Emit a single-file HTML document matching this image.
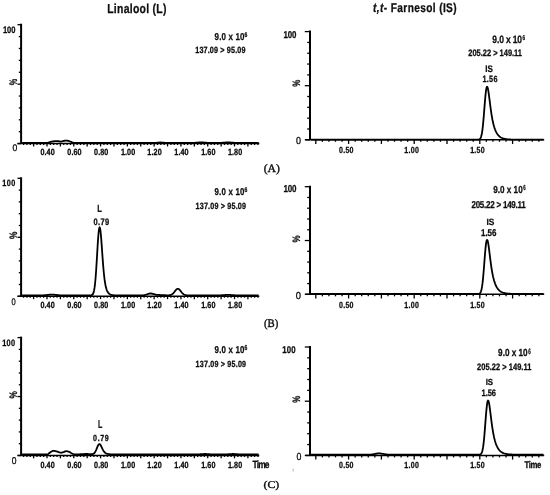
<!DOCTYPE html>
<html><head><meta charset="utf-8"><style>
html,body{margin:0;padding:0;background:#fff;}
svg{display:block;filter:blur(0.3px);}
.ax{stroke:#000;stroke-width:2.0;fill:none;}
.xa{stroke:#000;stroke-width:1.5;fill:none;}
.tk{stroke:#000;stroke-width:1.3;}
.tr{stroke:#000;stroke-width:1.8;fill:none;stroke-linejoin:round;}
text{fill:#111;}
</style></head><body>
<svg width="550" height="495" viewBox="0 0 550 495">
<line x1="21.1" y1="23.7" x2="21.1" y2="143.6" class="ax"/>
<line x1="17.5" y1="143.6" x2="259.3" y2="143.6" class="xa"/>
<line x1="17.5" y1="143.6" x2="21.1" y2="143.6" class="tk"/>
<line x1="18.8" y1="131.71" x2="21.1" y2="131.71" class="tk"/>
<line x1="18.8" y1="119.82" x2="21.1" y2="119.82" class="tk"/>
<line x1="18.8" y1="107.93" x2="21.1" y2="107.93" class="tk"/>
<line x1="18.8" y1="96.04" x2="21.1" y2="96.04" class="tk"/>
<line x1="17.5" y1="84.15" x2="21.1" y2="84.15" class="tk"/>
<line x1="18.8" y1="72.26" x2="21.1" y2="72.26" class="tk"/>
<line x1="18.8" y1="60.37" x2="21.1" y2="60.37" class="tk"/>
<line x1="18.8" y1="48.48" x2="21.1" y2="48.48" class="tk"/>
<line x1="18.8" y1="36.59" x2="21.1" y2="36.59" class="tk"/>
<line x1="17.5" y1="24.7" x2="21.1" y2="24.7" class="tk"/>
<line x1="23.56" y1="143.6" x2="23.56" y2="145.05" class="tk"/>
<line x1="26.91" y1="143.6" x2="26.91" y2="145.05" class="tk"/>
<line x1="30.26" y1="143.6" x2="30.26" y2="145.05" class="tk"/>
<line x1="33.61" y1="143.6" x2="33.61" y2="146.45" class="tk"/>
<line x1="36.96" y1="143.6" x2="36.96" y2="145.05" class="tk"/>
<line x1="40.3" y1="143.6" x2="40.3" y2="145.05" class="tk"/>
<line x1="43.65" y1="143.6" x2="43.65" y2="145.05" class="tk"/>
<line x1="47" y1="143.6" x2="47" y2="146.45" class="tk"/>
<line x1="50.35" y1="143.6" x2="50.35" y2="145.05" class="tk"/>
<line x1="53.7" y1="143.6" x2="53.7" y2="145.05" class="tk"/>
<line x1="57.04" y1="143.6" x2="57.04" y2="145.05" class="tk"/>
<line x1="60.39" y1="143.6" x2="60.39" y2="146.45" class="tk"/>
<line x1="63.74" y1="143.6" x2="63.74" y2="145.05" class="tk"/>
<line x1="67.09" y1="143.6" x2="67.09" y2="145.05" class="tk"/>
<line x1="70.44" y1="143.6" x2="70.44" y2="145.05" class="tk"/>
<line x1="73.79" y1="143.6" x2="73.79" y2="146.45" class="tk"/>
<line x1="77.13" y1="143.6" x2="77.13" y2="145.05" class="tk"/>
<line x1="80.48" y1="143.6" x2="80.48" y2="145.05" class="tk"/>
<line x1="83.83" y1="143.6" x2="83.83" y2="145.05" class="tk"/>
<line x1="87.18" y1="143.6" x2="87.18" y2="146.45" class="tk"/>
<line x1="90.53" y1="143.6" x2="90.53" y2="145.05" class="tk"/>
<line x1="93.88" y1="143.6" x2="93.88" y2="145.05" class="tk"/>
<line x1="97.22" y1="143.6" x2="97.22" y2="145.05" class="tk"/>
<line x1="100.57" y1="143.6" x2="100.57" y2="146.45" class="tk"/>
<line x1="103.92" y1="143.6" x2="103.92" y2="145.05" class="tk"/>
<line x1="107.27" y1="143.6" x2="107.27" y2="145.05" class="tk"/>
<line x1="110.62" y1="143.6" x2="110.62" y2="145.05" class="tk"/>
<line x1="113.97" y1="143.6" x2="113.97" y2="146.45" class="tk"/>
<line x1="117.31" y1="143.6" x2="117.31" y2="145.05" class="tk"/>
<line x1="120.66" y1="143.6" x2="120.66" y2="145.05" class="tk"/>
<line x1="124.01" y1="143.6" x2="124.01" y2="145.05" class="tk"/>
<line x1="127.36" y1="143.6" x2="127.36" y2="146.45" class="tk"/>
<line x1="130.71" y1="143.6" x2="130.71" y2="145.05" class="tk"/>
<line x1="134.05" y1="143.6" x2="134.05" y2="145.05" class="tk"/>
<line x1="137.4" y1="143.6" x2="137.4" y2="145.05" class="tk"/>
<line x1="140.75" y1="143.6" x2="140.75" y2="146.45" class="tk"/>
<line x1="144.1" y1="143.6" x2="144.1" y2="145.05" class="tk"/>
<line x1="147.45" y1="143.6" x2="147.45" y2="145.05" class="tk"/>
<line x1="150.8" y1="143.6" x2="150.8" y2="145.05" class="tk"/>
<line x1="154.14" y1="143.6" x2="154.14" y2="146.45" class="tk"/>
<line x1="157.49" y1="143.6" x2="157.49" y2="145.05" class="tk"/>
<line x1="160.84" y1="143.6" x2="160.84" y2="145.05" class="tk"/>
<line x1="164.19" y1="143.6" x2="164.19" y2="145.05" class="tk"/>
<line x1="167.54" y1="143.6" x2="167.54" y2="146.45" class="tk"/>
<line x1="170.89" y1="143.6" x2="170.89" y2="145.05" class="tk"/>
<line x1="174.23" y1="143.6" x2="174.23" y2="145.05" class="tk"/>
<line x1="177.58" y1="143.6" x2="177.58" y2="145.05" class="tk"/>
<line x1="180.93" y1="143.6" x2="180.93" y2="146.45" class="tk"/>
<line x1="184.28" y1="143.6" x2="184.28" y2="145.05" class="tk"/>
<line x1="187.63" y1="143.6" x2="187.63" y2="145.05" class="tk"/>
<line x1="190.97" y1="143.6" x2="190.97" y2="145.05" class="tk"/>
<line x1="194.32" y1="143.6" x2="194.32" y2="146.45" class="tk"/>
<line x1="197.67" y1="143.6" x2="197.67" y2="145.05" class="tk"/>
<line x1="201.02" y1="143.6" x2="201.02" y2="145.05" class="tk"/>
<line x1="204.37" y1="143.6" x2="204.37" y2="145.05" class="tk"/>
<line x1="207.72" y1="143.6" x2="207.72" y2="146.45" class="tk"/>
<line x1="211.06" y1="143.6" x2="211.06" y2="145.05" class="tk"/>
<line x1="214.41" y1="143.6" x2="214.41" y2="145.05" class="tk"/>
<line x1="217.76" y1="143.6" x2="217.76" y2="145.05" class="tk"/>
<line x1="221.11" y1="143.6" x2="221.11" y2="146.45" class="tk"/>
<line x1="224.46" y1="143.6" x2="224.46" y2="145.05" class="tk"/>
<line x1="227.81" y1="143.6" x2="227.81" y2="145.05" class="tk"/>
<line x1="231.15" y1="143.6" x2="231.15" y2="145.05" class="tk"/>
<line x1="234.5" y1="143.6" x2="234.5" y2="146.45" class="tk"/>
<line x1="237.85" y1="143.6" x2="237.85" y2="145.05" class="tk"/>
<line x1="241.2" y1="143.6" x2="241.2" y2="145.05" class="tk"/>
<line x1="244.55" y1="143.6" x2="244.55" y2="145.05" class="tk"/>
<line x1="247.9" y1="143.6" x2="247.9" y2="146.45" class="tk"/>
<line x1="251.24" y1="143.6" x2="251.24" y2="145.05" class="tk"/>
<line x1="254.59" y1="143.6" x2="254.59" y2="145.05" class="tk"/>
<line x1="257.94" y1="143.6" x2="257.94" y2="145.05" class="tk"/>
<polyline points="22.1,143 22.6,143 23.1,143 23.6,143 24.1,143 24.6,143 25.1,143 25.6,143 26.1,143 26.6,143 27.1,143 27.6,143 28.1,143 28.6,143 29.1,143 29.6,143 30.1,143 30.6,143 31.1,143 31.6,143 32.1,143 32.6,143 33.1,143 33.6,143 34.1,143 34.6,143 35.1,143 35.6,143 36.1,143 36.6,143 37.1,143 37.6,143 38.1,143 38.6,143 39.1,143 39.6,143 40.1,143 40.6,143 41.1,143 41.6,143 42.1,143 42.6,143 43.1,143 43.6,143 44.1,143 44.6,142.99 45.1,142.97 45.6,142.94 46.1,142.91 46.6,142.87 47.1,142.82 47.6,142.76 48.1,142.65 48.6,142.51 49.1,142.36 49.6,142.21 50.1,142.08 50.6,141.95 51.1,141.82 51.6,141.69 52.1,141.57 52.6,141.47 53.1,141.39 53.6,141.31 54.1,141.24 54.6,141.18 55.1,141.12 55.6,141.08 56.1,141.05 56.6,141.05 57.1,141.08 57.6,141.14 58.1,141.2 58.6,141.26 59.1,141.34 59.6,141.43 60.1,141.51 60.6,141.55 61.1,141.52 61.6,141.44 62.1,141.32 62.6,141.19 63.1,141.08 63.6,140.97 64.1,140.85 64.6,140.74 65.1,140.65 65.6,140.6 66.1,140.61 66.6,140.63 67.1,140.68 67.6,140.75 68.1,140.83 68.6,140.92 69.1,141.06 69.6,141.27 70.1,141.5 70.6,141.73 71.1,141.94 71.6,142.15 72.1,142.36 72.6,142.56 73.1,142.72 73.6,142.81 74.1,142.87 74.6,142.93 75.1,142.97 75.6,142.99 76.1,143 76.6,143 77.1,143 77.6,143 78.1,143 78.6,143 79.1,143 79.6,143 80.1,143 80.6,143 81.1,143 81.6,143 82.1,143 82.6,143 83.1,143 83.6,143 84.1,143 84.6,143 85.1,143 85.6,143 86.1,143 86.6,143 87.1,143 87.6,143 88.1,143 88.6,143 89.1,143 89.6,143 90.1,143 90.6,143 91.1,143 91.6,143 92.1,143 92.6,143 93.1,143 93.6,143 94.1,143 94.6,143 95.1,143 95.6,143 96.1,143 96.6,143 97.1,143 97.6,143 98.1,143 98.6,143 99.1,143 99.6,143 100.1,143 100.6,143 101.1,143 101.6,143 102.1,143 102.6,143 103.1,143 103.6,143 104.1,143 104.6,143 105.1,143 105.6,143 106.1,143 106.6,143 107.1,143 107.6,143 108.1,143 108.6,143 109.1,143 109.6,143 110.1,143 110.6,143 111.1,143 111.6,143 112.1,143 112.6,143 113.1,143 113.6,143 114.1,143 114.6,143 115.1,143 115.6,143 116.1,143 116.6,143 117.1,143 117.6,143 118.1,143 118.6,143 119.1,143 119.6,143 120.1,143 120.6,143 121.1,143 121.6,143 122.1,143 122.6,143 123.1,143 123.6,143 124.1,143 124.6,143 125.1,143 125.6,143 126.1,143 126.6,143 127.1,143 127.6,143 128.1,143 128.6,143 129.1,143 129.6,143 130.1,143 130.6,143 131.1,143 131.6,143 132.1,143 132.6,143 133.1,143 133.6,143 134.1,143 134.6,143 135.1,143 135.6,143 136.1,143 136.6,143 137.1,143 137.6,143 138.1,143 138.6,143 139.1,143 139.6,143 140.1,143 140.6,143 141.1,143 141.6,143 142.1,143 142.6,143 143.1,143 143.6,143 144.1,143 144.6,143 145.1,143 145.6,143 146.1,143 146.6,143 147.1,143 147.6,143 148.1,143 148.6,143 149.1,143 149.6,143 150.1,143 150.6,143 151.1,143 151.6,142.99 152.1,142.99 152.6,142.98 153.1,142.97 153.6,142.96 154.1,142.94 154.6,142.92 155.1,142.89 155.6,142.86 156.1,142.82 156.6,142.78 157.1,142.73 157.6,142.68 158.1,142.63 158.6,142.58 159.1,142.54 159.6,142.52 160.1,142.5 160.6,142.5 161.1,142.51 161.6,142.54 162.1,142.57 162.6,142.62 163.1,142.67 163.6,142.72 164.1,142.77 164.6,142.81 165.1,142.85 165.6,142.89 166.1,142.92 166.6,142.94 167.1,142.96 167.6,142.97 168.1,142.98 168.6,142.99 169.1,142.99 169.6,143 170.1,143 170.6,143 171.1,143 171.6,143 172.1,143 172.6,143 173.1,143 173.6,143 174.1,143 174.6,143 175.1,143 175.6,143 176.1,143 176.6,143 177.1,143 177.6,143 178.1,143 178.6,143 179.1,143 179.6,143 180.1,143 180.6,143 181.1,143 181.6,143 182.1,143 182.6,143 183.1,143 183.6,143 184.1,143 184.6,143 185.1,143 185.6,143 186.1,143 186.6,143 187.1,143 187.6,143 188.1,143 188.6,143 189.1,142.99 189.6,142.99 190.1,142.99 190.6,142.98 191.1,142.97 191.6,142.96 192.1,142.95 192.6,142.93 193.1,142.91 193.6,142.89 194.1,142.86 194.6,142.83 195.1,142.8 195.6,142.76 196.1,142.72 196.6,142.67 197.1,142.63 197.6,142.58 198.1,142.54 198.6,142.5 199.1,142.46 199.6,142.44 200.1,142.41 200.6,142.4 201.1,142.4 201.6,142.41 202.1,142.42 202.6,142.45 203.1,142.48 203.6,142.51 204.1,142.56 204.6,142.6 205.1,142.65 205.6,142.69 206.1,142.73 206.6,142.77 207.1,142.81 207.6,142.85 208.1,142.88 208.6,142.9 209.1,142.92 209.6,142.94 210.1,142.95 210.6,142.97 211.1,142.98 211.6,142.98 212.1,142.99 212.6,142.99 213.1,142.99 213.6,142.99 214.1,143 214.6,143 215.1,143 215.6,142.99 216.1,142.99 216.6,142.99 217.1,142.99 217.6,142.98 218.1,142.97 218.6,142.96 219.1,142.95 219.6,142.93 220.1,142.91 220.6,142.89 221.1,142.86 221.6,142.83 222.1,142.8 222.6,142.76 223.1,142.72 223.6,142.67 224.1,142.63 224.6,142.58 225.1,142.54 225.6,142.5 226.1,142.46 226.6,142.44 227.1,142.41 227.6,142.4 228.1,142.4 228.6,142.41 229.1,142.42 229.6,142.45 230.1,142.48 230.6,142.51 231.1,142.56 231.6,142.6 232.1,142.65 232.6,142.69 233.1,142.73 233.6,142.77 234.1,142.81 234.6,142.85 235.1,142.88 235.6,142.9 236.1,142.92 236.6,142.94 237.1,142.95 237.6,142.97 238.1,142.98 238.6,142.98 239.1,142.99 239.6,142.99 240.1,142.99 240.6,143 241.1,143 241.6,143 242.1,143 242.6,143 243.1,143 243.6,143 244.1,143 244.6,143 245.1,143 245.6,143 246.1,143 246.6,143 247.1,143 247.6,143 248.1,143 248.6,143 249.1,143 249.6,143 250.1,143 250.6,143 251.1,143 251.6,143 252.1,143 252.6,143 253.1,143 253.6,143 254.1,143 254.6,143 255.1,143 255.6,143 256.1,143 256.6,143 257.1,143 257.6,143 258.1,143 258.6,143" class="tr"/>
<line x1="21.1" y1="177.3" x2="21.1" y2="296.3" class="ax"/>
<line x1="17.5" y1="296.3" x2="259.3" y2="296.3" class="xa"/>
<line x1="17.5" y1="296.3" x2="21.1" y2="296.3" class="tk"/>
<line x1="18.8" y1="284.5" x2="21.1" y2="284.5" class="tk"/>
<line x1="18.8" y1="272.7" x2="21.1" y2="272.7" class="tk"/>
<line x1="18.8" y1="260.9" x2="21.1" y2="260.9" class="tk"/>
<line x1="18.8" y1="249.1" x2="21.1" y2="249.1" class="tk"/>
<line x1="17.5" y1="237.3" x2="21.1" y2="237.3" class="tk"/>
<line x1="18.8" y1="225.5" x2="21.1" y2="225.5" class="tk"/>
<line x1="18.8" y1="213.7" x2="21.1" y2="213.7" class="tk"/>
<line x1="18.8" y1="201.9" x2="21.1" y2="201.9" class="tk"/>
<line x1="18.8" y1="190.1" x2="21.1" y2="190.1" class="tk"/>
<line x1="17.5" y1="178.3" x2="21.1" y2="178.3" class="tk"/>
<line x1="23.56" y1="296.3" x2="23.56" y2="297.75" class="tk"/>
<line x1="26.91" y1="296.3" x2="26.91" y2="297.75" class="tk"/>
<line x1="30.26" y1="296.3" x2="30.26" y2="297.75" class="tk"/>
<line x1="33.61" y1="296.3" x2="33.61" y2="299.15" class="tk"/>
<line x1="36.96" y1="296.3" x2="36.96" y2="297.75" class="tk"/>
<line x1="40.3" y1="296.3" x2="40.3" y2="297.75" class="tk"/>
<line x1="43.65" y1="296.3" x2="43.65" y2="297.75" class="tk"/>
<line x1="47" y1="296.3" x2="47" y2="299.15" class="tk"/>
<line x1="50.35" y1="296.3" x2="50.35" y2="297.75" class="tk"/>
<line x1="53.7" y1="296.3" x2="53.7" y2="297.75" class="tk"/>
<line x1="57.04" y1="296.3" x2="57.04" y2="297.75" class="tk"/>
<line x1="60.39" y1="296.3" x2="60.39" y2="299.15" class="tk"/>
<line x1="63.74" y1="296.3" x2="63.74" y2="297.75" class="tk"/>
<line x1="67.09" y1="296.3" x2="67.09" y2="297.75" class="tk"/>
<line x1="70.44" y1="296.3" x2="70.44" y2="297.75" class="tk"/>
<line x1="73.79" y1="296.3" x2="73.79" y2="299.15" class="tk"/>
<line x1="77.13" y1="296.3" x2="77.13" y2="297.75" class="tk"/>
<line x1="80.48" y1="296.3" x2="80.48" y2="297.75" class="tk"/>
<line x1="83.83" y1="296.3" x2="83.83" y2="297.75" class="tk"/>
<line x1="87.18" y1="296.3" x2="87.18" y2="299.15" class="tk"/>
<line x1="90.53" y1="296.3" x2="90.53" y2="297.75" class="tk"/>
<line x1="93.88" y1="296.3" x2="93.88" y2="297.75" class="tk"/>
<line x1="97.22" y1="296.3" x2="97.22" y2="297.75" class="tk"/>
<line x1="100.57" y1="296.3" x2="100.57" y2="299.15" class="tk"/>
<line x1="103.92" y1="296.3" x2="103.92" y2="297.75" class="tk"/>
<line x1="107.27" y1="296.3" x2="107.27" y2="297.75" class="tk"/>
<line x1="110.62" y1="296.3" x2="110.62" y2="297.75" class="tk"/>
<line x1="113.97" y1="296.3" x2="113.97" y2="299.15" class="tk"/>
<line x1="117.31" y1="296.3" x2="117.31" y2="297.75" class="tk"/>
<line x1="120.66" y1="296.3" x2="120.66" y2="297.75" class="tk"/>
<line x1="124.01" y1="296.3" x2="124.01" y2="297.75" class="tk"/>
<line x1="127.36" y1="296.3" x2="127.36" y2="299.15" class="tk"/>
<line x1="130.71" y1="296.3" x2="130.71" y2="297.75" class="tk"/>
<line x1="134.05" y1="296.3" x2="134.05" y2="297.75" class="tk"/>
<line x1="137.4" y1="296.3" x2="137.4" y2="297.75" class="tk"/>
<line x1="140.75" y1="296.3" x2="140.75" y2="299.15" class="tk"/>
<line x1="144.1" y1="296.3" x2="144.1" y2="297.75" class="tk"/>
<line x1="147.45" y1="296.3" x2="147.45" y2="297.75" class="tk"/>
<line x1="150.8" y1="296.3" x2="150.8" y2="297.75" class="tk"/>
<line x1="154.14" y1="296.3" x2="154.14" y2="299.15" class="tk"/>
<line x1="157.49" y1="296.3" x2="157.49" y2="297.75" class="tk"/>
<line x1="160.84" y1="296.3" x2="160.84" y2="297.75" class="tk"/>
<line x1="164.19" y1="296.3" x2="164.19" y2="297.75" class="tk"/>
<line x1="167.54" y1="296.3" x2="167.54" y2="299.15" class="tk"/>
<line x1="170.89" y1="296.3" x2="170.89" y2="297.75" class="tk"/>
<line x1="174.23" y1="296.3" x2="174.23" y2="297.75" class="tk"/>
<line x1="177.58" y1="296.3" x2="177.58" y2="297.75" class="tk"/>
<line x1="180.93" y1="296.3" x2="180.93" y2="299.15" class="tk"/>
<line x1="184.28" y1="296.3" x2="184.28" y2="297.75" class="tk"/>
<line x1="187.63" y1="296.3" x2="187.63" y2="297.75" class="tk"/>
<line x1="190.97" y1="296.3" x2="190.97" y2="297.75" class="tk"/>
<line x1="194.32" y1="296.3" x2="194.32" y2="299.15" class="tk"/>
<line x1="197.67" y1="296.3" x2="197.67" y2="297.75" class="tk"/>
<line x1="201.02" y1="296.3" x2="201.02" y2="297.75" class="tk"/>
<line x1="204.37" y1="296.3" x2="204.37" y2="297.75" class="tk"/>
<line x1="207.72" y1="296.3" x2="207.72" y2="299.15" class="tk"/>
<line x1="211.06" y1="296.3" x2="211.06" y2="297.75" class="tk"/>
<line x1="214.41" y1="296.3" x2="214.41" y2="297.75" class="tk"/>
<line x1="217.76" y1="296.3" x2="217.76" y2="297.75" class="tk"/>
<line x1="221.11" y1="296.3" x2="221.11" y2="299.15" class="tk"/>
<line x1="224.46" y1="296.3" x2="224.46" y2="297.75" class="tk"/>
<line x1="227.81" y1="296.3" x2="227.81" y2="297.75" class="tk"/>
<line x1="231.15" y1="296.3" x2="231.15" y2="297.75" class="tk"/>
<line x1="234.5" y1="296.3" x2="234.5" y2="299.15" class="tk"/>
<line x1="237.85" y1="296.3" x2="237.85" y2="297.75" class="tk"/>
<line x1="241.2" y1="296.3" x2="241.2" y2="297.75" class="tk"/>
<line x1="244.55" y1="296.3" x2="244.55" y2="297.75" class="tk"/>
<line x1="247.9" y1="296.3" x2="247.9" y2="299.15" class="tk"/>
<line x1="251.24" y1="296.3" x2="251.24" y2="297.75" class="tk"/>
<line x1="254.59" y1="296.3" x2="254.59" y2="297.75" class="tk"/>
<line x1="257.94" y1="296.3" x2="257.94" y2="297.75" class="tk"/>
<polyline points="22.1,295.4 22.6,295.4 23.1,295.4 23.6,295.4 24.1,295.4 24.6,295.4 25.1,295.4 25.6,295.4 26.1,295.4 26.6,295.4 27.1,295.4 27.6,295.4 28.1,295.4 28.6,295.4 29.1,295.4 29.6,295.4 30.1,295.4 30.6,295.4 31.1,295.4 31.6,295.4 32.1,295.4 32.6,295.4 33.1,295.4 33.6,295.4 34.1,295.4 34.6,295.4 35.1,295.4 35.6,295.4 36.1,295.4 36.6,295.4 37.1,295.4 37.6,295.4 38.1,295.4 38.6,295.4 39.1,295.39 39.6,295.39 40.1,295.39 40.6,295.38 41.1,295.38 41.6,295.37 42.1,295.36 42.6,295.34 43.1,295.32 43.6,295.3 44.1,295.27 44.6,295.24 45.1,295.2 45.6,295.16 46.1,295.11 46.6,295.06 47.1,295 47.6,294.94 48.1,294.88 48.6,294.82 49.1,294.76 49.6,294.71 50.1,294.67 50.6,294.64 51.1,294.61 51.6,294.6 52.1,294.6 52.6,294.62 53.1,294.64 53.6,294.68 54.1,294.72 54.6,294.77 55.1,294.83 55.6,294.89 56.1,294.95 56.6,295.01 57.1,295.07 57.6,295.12 58.1,295.17 58.6,295.21 59.1,295.25 59.6,295.28 60.1,295.31 60.6,295.33 61.1,295.35 61.6,295.36 62.1,295.37 62.6,295.38 63.1,295.39 63.6,295.39 64.1,295.39 64.6,295.4 65.1,295.4 65.6,295.4 66.1,295.4 66.6,295.4 67.1,295.4 67.6,295.4 68.1,295.4 68.6,295.4 69.1,295.4 69.6,295.4 70.1,295.4 70.6,295.4 71.1,295.4 71.6,295.4 72.1,295.4 72.6,295.4 73.1,295.4 73.6,295.4 74.1,295.4 74.6,295.4 75.1,295.4 75.6,295.4 76.1,295.4 76.6,295.4 77.1,295.4 77.6,295.4 78.1,295.4 78.6,295.4 79.1,295.4 79.6,295.4 80.1,295.4 80.6,295.4 81.1,295.4 81.6,295.4 82.1,295.4 82.6,295.4 83.1,295.4 83.6,295.4 84.1,295.4 84.6,295.4 85.1,295.4 85.6,295.4 86.1,295.4 86.6,295.4 87.1,295.4 87.6,295.4 88.1,295.4 88.6,295.4 89.1,295.4 89.6,295.39 90.1,295.38 90.6,295.35 91.1,295.29 91.6,295.16 92.1,294.92 92.6,294.47 93.1,293.69 93.6,292.4 94.1,290.38 94.6,287.4 95.1,283.25 95.6,277.78 96.1,271.02 96.6,263.18 97.1,254.72 97.6,246.28 98.1,238.64 98.6,232.54 99.1,228.63 99.6,227.25 100.1,228.46 100.6,232 101.1,237.35 101.6,243.88 102.1,250.96 102.6,258 103.1,264.6 103.6,270.47 104.1,275.5 104.6,279.67 105.1,283.05 105.6,285.74 106.1,287.86 106.6,289.52 107.1,290.81 107.6,291.81 108.1,292.59 108.6,293.21 109.1,293.69 109.6,294.06 110.1,294.36 110.6,294.59 111.1,294.77 111.6,294.92 112.1,295.03 112.6,295.12 113.1,295.19 113.6,295.24 114.1,295.28 114.6,295.31 115.1,295.33 115.6,295.35 116.1,295.36 116.6,295.37 117.1,295.38 117.6,295.39 118.1,295.39 118.6,295.39 119.1,295.39 119.6,295.4 120.1,295.4 120.6,295.4 121.1,295.4 121.6,295.4 122.1,295.4 122.6,295.4 123.1,295.4 123.6,295.4 124.1,295.4 124.6,295.4 125.1,295.4 125.6,295.4 126.1,295.4 126.6,295.4 127.1,295.4 127.6,295.4 128.1,295.4 128.6,295.4 129.1,295.4 129.6,295.4 130.1,295.4 130.6,295.4 131.1,295.4 131.6,295.4 132.1,295.4 132.6,295.4 133.1,295.4 133.6,295.4 134.1,295.4 134.6,295.4 135.1,295.4 135.6,295.4 136.1,295.4 136.6,295.4 137.1,295.4 137.6,295.4 138.1,295.4 138.6,295.4 139.1,295.4 139.6,295.4 140.1,295.39 140.6,295.39 141.1,295.38 141.6,295.37 142.1,295.35 142.6,295.32 143.1,295.28 143.6,295.23 144.1,295.16 144.6,295.08 145.1,294.97 145.6,294.84 146.1,294.69 146.6,294.52 147.1,294.34 147.6,294.16 148.1,293.98 148.6,293.81 149.1,293.67 149.6,293.56 150.1,293.49 150.6,293.47 151.1,293.49 151.6,293.55 152.1,293.65 152.6,293.78 153.1,293.92 153.6,294.07 154.1,294.22 154.6,294.36 155.1,294.49 155.6,294.6 156.1,294.7 156.6,294.77 157.1,294.83 157.6,294.88 158.1,294.92 158.6,294.95 159.1,294.97 159.6,295 160.1,295.02 160.6,295.04 161.1,295.07 161.6,295.09 162.1,295.11 162.6,295.14 163.1,295.16 163.6,295.19 164.1,295.21 164.6,295.23 165.1,295.25 165.6,295.27 166.1,295.29 166.6,295.3 167.1,295.31 167.6,295.31 168.1,295.3 168.6,295.28 169.1,295.24 169.6,295.18 170.1,295.09 170.6,294.95 171.1,294.77 171.6,294.53 172.1,294.21 172.6,293.82 173.1,293.36 173.6,292.82 174.1,292.22 174.6,291.59 175.1,290.95 175.6,290.33 176.1,289.77 176.6,289.31 177.1,288.99 177.6,288.82 178.1,288.82 178.6,288.99 179.1,289.32 179.6,289.77 180.1,290.33 180.6,290.95 181.1,291.59 181.6,292.22 182.1,292.82 182.6,293.36 183.1,293.83 183.6,294.22 184.1,294.54 184.6,294.78 185.1,294.97 185.6,295.11 186.1,295.21 186.6,295.28 187.1,295.32 187.6,295.35 188.1,295.37 188.6,295.38 189.1,295.39 189.6,295.39 190.1,295.4 190.6,295.4 191.1,295.4 191.6,295.4 192.1,295.4 192.6,295.4 193.1,295.4 193.6,295.4 194.1,295.4 194.6,295.4 195.1,295.4 195.6,295.4 196.1,295.4 196.6,295.4 197.1,295.4 197.6,295.4 198.1,295.4 198.6,295.4 199.1,295.4 199.6,295.4 200.1,295.4 200.6,295.4 201.1,295.4 201.6,295.4 202.1,295.4 202.6,295.4 203.1,295.4 203.6,295.4 204.1,295.4 204.6,295.4 205.1,295.4 205.6,295.4 206.1,295.4 206.6,295.4 207.1,295.4 207.6,295.4 208.1,295.4 208.6,295.4 209.1,295.4 209.6,295.4 210.1,295.4 210.6,295.4 211.1,295.4 211.6,295.4 212.1,295.4 212.6,295.4 213.1,295.4 213.6,295.4 214.1,295.4 214.6,295.4 215.1,295.4 215.6,295.4 216.1,295.39 216.6,295.39 217.1,295.39 217.6,295.38 218.1,295.38 218.6,295.37 219.1,295.36 219.6,295.34 220.1,295.33 220.6,295.31 221.1,295.29 221.6,295.26 222.1,295.23 222.6,295.2 223.1,295.16 223.6,295.13 224.1,295.09 224.6,295.05 225.1,295.02 225.6,294.98 226.1,294.95 226.6,294.93 227.1,294.91 227.6,294.9 228.1,294.9 228.6,294.91 229.1,294.92 229.6,294.94 230.1,294.96 230.6,295 231.1,295.03 231.6,295.07 232.1,295.1 232.6,295.14 233.1,295.18 233.6,295.21 234.1,295.24 234.6,295.27 235.1,295.3 235.6,295.32 236.1,295.34 236.6,295.35 237.1,295.36 237.6,295.37 238.1,295.38 238.6,295.39 239.1,295.39 239.6,295.39 240.1,295.39 240.6,295.4 241.1,295.4 241.6,295.4 242.1,295.4 242.6,295.4 243.1,295.4 243.6,295.4 244.1,295.4 244.6,295.4 245.1,295.4 245.6,295.4 246.1,295.4 246.6,295.4 247.1,295.4 247.6,295.4 248.1,295.4 248.6,295.4 249.1,295.4 249.6,295.4 250.1,295.4 250.6,295.4 251.1,295.4 251.6,295.4 252.1,295.4 252.6,295.4 253.1,295.4 253.6,295.4 254.1,295.4 254.6,295.4 255.1,295.4 255.6,295.4 256.1,295.4 256.6,295.4 257.1,295.4 257.6,295.4 258.1,295.4 258.6,295.4" class="tr"/>
<line x1="21.1" y1="336.6" x2="21.1" y2="455.5" class="ax"/>
<line x1="17.5" y1="455.5" x2="259.3" y2="455.5" class="xa"/>
<line x1="17.5" y1="455.5" x2="21.1" y2="455.5" class="tk"/>
<line x1="18.8" y1="443.71" x2="21.1" y2="443.71" class="tk"/>
<line x1="18.8" y1="431.92" x2="21.1" y2="431.92" class="tk"/>
<line x1="18.8" y1="420.13" x2="21.1" y2="420.13" class="tk"/>
<line x1="18.8" y1="408.34" x2="21.1" y2="408.34" class="tk"/>
<line x1="17.5" y1="396.55" x2="21.1" y2="396.55" class="tk"/>
<line x1="18.8" y1="384.76" x2="21.1" y2="384.76" class="tk"/>
<line x1="18.8" y1="372.97" x2="21.1" y2="372.97" class="tk"/>
<line x1="18.8" y1="361.18" x2="21.1" y2="361.18" class="tk"/>
<line x1="18.8" y1="349.39" x2="21.1" y2="349.39" class="tk"/>
<line x1="17.5" y1="337.6" x2="21.1" y2="337.6" class="tk"/>
<line x1="23.56" y1="455.5" x2="23.56" y2="456.95" class="tk"/>
<line x1="26.91" y1="455.5" x2="26.91" y2="456.95" class="tk"/>
<line x1="30.26" y1="455.5" x2="30.26" y2="456.95" class="tk"/>
<line x1="33.61" y1="455.5" x2="33.61" y2="458.35" class="tk"/>
<line x1="36.96" y1="455.5" x2="36.96" y2="456.95" class="tk"/>
<line x1="40.3" y1="455.5" x2="40.3" y2="456.95" class="tk"/>
<line x1="43.65" y1="455.5" x2="43.65" y2="456.95" class="tk"/>
<line x1="47" y1="455.5" x2="47" y2="458.35" class="tk"/>
<line x1="50.35" y1="455.5" x2="50.35" y2="456.95" class="tk"/>
<line x1="53.7" y1="455.5" x2="53.7" y2="456.95" class="tk"/>
<line x1="57.04" y1="455.5" x2="57.04" y2="456.95" class="tk"/>
<line x1="60.39" y1="455.5" x2="60.39" y2="458.35" class="tk"/>
<line x1="63.74" y1="455.5" x2="63.74" y2="456.95" class="tk"/>
<line x1="67.09" y1="455.5" x2="67.09" y2="456.95" class="tk"/>
<line x1="70.44" y1="455.5" x2="70.44" y2="456.95" class="tk"/>
<line x1="73.79" y1="455.5" x2="73.79" y2="458.35" class="tk"/>
<line x1="77.13" y1="455.5" x2="77.13" y2="456.95" class="tk"/>
<line x1="80.48" y1="455.5" x2="80.48" y2="456.95" class="tk"/>
<line x1="83.83" y1="455.5" x2="83.83" y2="456.95" class="tk"/>
<line x1="87.18" y1="455.5" x2="87.18" y2="458.35" class="tk"/>
<line x1="90.53" y1="455.5" x2="90.53" y2="456.95" class="tk"/>
<line x1="93.88" y1="455.5" x2="93.88" y2="456.95" class="tk"/>
<line x1="97.22" y1="455.5" x2="97.22" y2="456.95" class="tk"/>
<line x1="100.57" y1="455.5" x2="100.57" y2="458.35" class="tk"/>
<line x1="103.92" y1="455.5" x2="103.92" y2="456.95" class="tk"/>
<line x1="107.27" y1="455.5" x2="107.27" y2="456.95" class="tk"/>
<line x1="110.62" y1="455.5" x2="110.62" y2="456.95" class="tk"/>
<line x1="113.97" y1="455.5" x2="113.97" y2="458.35" class="tk"/>
<line x1="117.31" y1="455.5" x2="117.31" y2="456.95" class="tk"/>
<line x1="120.66" y1="455.5" x2="120.66" y2="456.95" class="tk"/>
<line x1="124.01" y1="455.5" x2="124.01" y2="456.95" class="tk"/>
<line x1="127.36" y1="455.5" x2="127.36" y2="458.35" class="tk"/>
<line x1="130.71" y1="455.5" x2="130.71" y2="456.95" class="tk"/>
<line x1="134.05" y1="455.5" x2="134.05" y2="456.95" class="tk"/>
<line x1="137.4" y1="455.5" x2="137.4" y2="456.95" class="tk"/>
<line x1="140.75" y1="455.5" x2="140.75" y2="458.35" class="tk"/>
<line x1="144.1" y1="455.5" x2="144.1" y2="456.95" class="tk"/>
<line x1="147.45" y1="455.5" x2="147.45" y2="456.95" class="tk"/>
<line x1="150.8" y1="455.5" x2="150.8" y2="456.95" class="tk"/>
<line x1="154.14" y1="455.5" x2="154.14" y2="458.35" class="tk"/>
<line x1="157.49" y1="455.5" x2="157.49" y2="456.95" class="tk"/>
<line x1="160.84" y1="455.5" x2="160.84" y2="456.95" class="tk"/>
<line x1="164.19" y1="455.5" x2="164.19" y2="456.95" class="tk"/>
<line x1="167.54" y1="455.5" x2="167.54" y2="458.35" class="tk"/>
<line x1="170.89" y1="455.5" x2="170.89" y2="456.95" class="tk"/>
<line x1="174.23" y1="455.5" x2="174.23" y2="456.95" class="tk"/>
<line x1="177.58" y1="455.5" x2="177.58" y2="456.95" class="tk"/>
<line x1="180.93" y1="455.5" x2="180.93" y2="458.35" class="tk"/>
<line x1="184.28" y1="455.5" x2="184.28" y2="456.95" class="tk"/>
<line x1="187.63" y1="455.5" x2="187.63" y2="456.95" class="tk"/>
<line x1="190.97" y1="455.5" x2="190.97" y2="456.95" class="tk"/>
<line x1="194.32" y1="455.5" x2="194.32" y2="458.35" class="tk"/>
<line x1="197.67" y1="455.5" x2="197.67" y2="456.95" class="tk"/>
<line x1="201.02" y1="455.5" x2="201.02" y2="456.95" class="tk"/>
<line x1="204.37" y1="455.5" x2="204.37" y2="456.95" class="tk"/>
<line x1="207.72" y1="455.5" x2="207.72" y2="458.35" class="tk"/>
<line x1="211.06" y1="455.5" x2="211.06" y2="456.95" class="tk"/>
<line x1="214.41" y1="455.5" x2="214.41" y2="456.95" class="tk"/>
<line x1="217.76" y1="455.5" x2="217.76" y2="456.95" class="tk"/>
<line x1="221.11" y1="455.5" x2="221.11" y2="458.35" class="tk"/>
<line x1="224.46" y1="455.5" x2="224.46" y2="456.95" class="tk"/>
<line x1="227.81" y1="455.5" x2="227.81" y2="456.95" class="tk"/>
<line x1="231.15" y1="455.5" x2="231.15" y2="456.95" class="tk"/>
<line x1="234.5" y1="455.5" x2="234.5" y2="458.35" class="tk"/>
<line x1="237.85" y1="455.5" x2="237.85" y2="456.95" class="tk"/>
<line x1="241.2" y1="455.5" x2="241.2" y2="456.95" class="tk"/>
<line x1="244.55" y1="455.5" x2="244.55" y2="456.95" class="tk"/>
<line x1="247.9" y1="455.5" x2="247.9" y2="458.35" class="tk"/>
<line x1="251.24" y1="455.5" x2="251.24" y2="456.95" class="tk"/>
<line x1="254.59" y1="455.5" x2="254.59" y2="456.95" class="tk"/>
<line x1="257.94" y1="455.5" x2="257.94" y2="456.95" class="tk"/>
<polyline points="22.1,454.5 22.6,454.5 23.1,454.5 23.6,454.5 24.1,454.5 24.6,454.5 25.1,454.5 25.6,454.5 26.1,454.5 26.6,454.5 27.1,454.5 27.6,454.5 28.1,454.5 28.6,454.5 29.1,454.5 29.6,454.5 30.1,454.5 30.6,454.5 31.1,454.5 31.6,454.5 32.1,454.5 32.6,454.5 33.1,454.5 33.6,454.5 34.1,454.5 34.6,454.5 35.1,454.5 35.6,454.5 36.1,454.5 36.6,454.5 37.1,454.5 37.6,454.5 38.1,454.5 38.6,454.5 39.1,454.5 39.6,454.5 40.1,454.5 40.6,454.5 41.1,454.5 41.6,454.5 42.1,454.5 42.6,454.5 43.1,454.5 43.6,454.5 44.1,454.5 44.6,454.5 45.1,454.5 45.6,454.49 46.1,454.48 46.6,454.45 47.1,454.42 47.6,454.33 48.1,454.06 48.6,453.66 49.1,453.21 49.6,452.78 50.1,452.44 50.6,452.13 51.1,451.8 51.6,451.49 52.1,451.2 52.6,450.98 53.1,450.84 53.6,450.8 54.1,450.83 54.6,450.91 55.1,451.01 55.6,451.13 56.1,451.27 56.6,451.4 57.1,451.52 57.6,451.67 58.1,451.85 58.6,452.05 59.1,452.24 59.6,452.42 60.1,452.56 60.6,452.66 61.1,452.7 61.6,452.66 62.1,452.54 62.6,452.39 63.1,452.22 63.6,452.07 64.1,451.88 64.6,451.66 65.1,451.45 65.6,451.28 66.1,451.2 66.6,451.22 67.1,451.28 67.6,451.39 68.1,451.52 68.6,451.67 69.1,451.83 69.6,452.05 70.1,452.34 70.6,452.66 71.1,452.99 71.6,453.29 72.1,453.53 72.6,453.76 73.1,453.98 73.6,454.18 74.1,454.31 74.6,454.37 75.1,454.39 75.6,454.41 76.1,454.41 76.6,454.41 77.1,454.4 77.6,454.38 78.1,454.36 78.6,454.33 79.1,454.31 79.6,454.28 80.1,454.25 80.6,454.22 81.1,454.19 81.6,454.16 82.1,454.13 82.6,454.1 83.1,454.08 83.6,454.05 84.1,454.03 84.6,454.02 85.1,454.01 85.6,454 86.1,454 86.6,454 87.1,454.01 87.6,454.02 88.1,454.04 88.6,454.06 89.1,454.09 89.6,454.11 90.1,454.13 90.6,454.15 91.1,454.17 91.6,454.16 92.1,454.13 92.6,454.06 93.1,453.91 93.6,453.67 94.1,453.3 94.6,452.77 95.1,452.05 95.6,451.14 96.1,450.05 96.6,448.84 97.1,447.58 97.6,446.38 98.1,445.34 98.6,444.57 99.1,444.15 99.6,444.11 100.1,444.44 100.6,445.1 101.1,445.99 101.6,447.03 102.1,448.12 102.6,449.17 103.1,450.14 103.6,450.98 104.1,451.69 104.6,452.26 105.1,452.72 105.6,453.08 106.1,453.36 106.6,453.57 107.1,453.74 107.6,453.88 108.1,453.99 108.6,454.08 109.1,454.16 109.6,454.22 110.1,454.28 110.6,454.32 111.1,454.36 111.6,454.39 112.1,454.41 112.6,454.43 113.1,454.45 113.6,454.46 114.1,454.47 114.6,454.48 115.1,454.49 115.6,454.49 116.1,454.49 116.6,454.5 117.1,454.5 117.6,454.5 118.1,454.5 118.6,454.5 119.1,454.5 119.6,454.5 120.1,454.5 120.6,454.5 121.1,454.5 121.6,454.5 122.1,454.5 122.6,454.5 123.1,454.5 123.6,454.5 124.1,454.5 124.6,454.5 125.1,454.5 125.6,454.5 126.1,454.5 126.6,454.5 127.1,454.5 127.6,454.5 128.1,454.5 128.6,454.5 129.1,454.5 129.6,454.5 130.1,454.5 130.6,454.5 131.1,454.5 131.6,454.5 132.1,454.5 132.6,454.5 133.1,454.5 133.6,454.5 134.1,454.5 134.6,454.5 135.1,454.5 135.6,454.5 136.1,454.5 136.6,454.5 137.1,454.5 137.6,454.5 138.1,454.5 138.6,454.5 139.1,454.5 139.6,454.5 140.1,454.5 140.6,454.5 141.1,454.5 141.6,454.5 142.1,454.5 142.6,454.5 143.1,454.5 143.6,454.5 144.1,454.5 144.6,454.5 145.1,454.5 145.6,454.5 146.1,454.5 146.6,454.5 147.1,454.5 147.6,454.5 148.1,454.5 148.6,454.5 149.1,454.5 149.6,454.5 150.1,454.5 150.6,454.5 151.1,454.5 151.6,454.5 152.1,454.5 152.6,454.5 153.1,454.5 153.6,454.5 154.1,454.5 154.6,454.5 155.1,454.5 155.6,454.5 156.1,454.5 156.6,454.5 157.1,454.5 157.6,454.5 158.1,454.5 158.6,454.5 159.1,454.5 159.6,454.5 160.1,454.5 160.6,454.5 161.1,454.5 161.6,454.5 162.1,454.5 162.6,454.5 163.1,454.5 163.6,454.5 164.1,454.5 164.6,454.5 165.1,454.5 165.6,454.5 166.1,454.5 166.6,454.5 167.1,454.5 167.6,454.5 168.1,454.5 168.6,454.5 169.1,454.5 169.6,454.5 170.1,454.5 170.6,454.5 171.1,454.5 171.6,454.5 172.1,454.5 172.6,454.5 173.1,454.5 173.6,454.5 174.1,454.5 174.6,454.5 175.1,454.5 175.6,454.5 176.1,454.5 176.6,454.5 177.1,454.5 177.6,454.5 178.1,454.5 178.6,454.5 179.1,454.5 179.6,454.5 180.1,454.5 180.6,454.5 181.1,454.5 181.6,454.5 182.1,454.5 182.6,454.5 183.1,454.5 183.6,454.5 184.1,454.5 184.6,454.5 185.1,454.5 185.6,454.5 186.1,454.5 186.6,454.5 187.1,454.5 187.6,454.5 188.1,454.5 188.6,454.5 189.1,454.5 189.6,454.5 190.1,454.5 190.6,454.5 191.1,454.5 191.6,454.5 192.1,454.5 192.6,454.5 193.1,454.49 193.6,454.49 194.1,454.49 194.6,454.48 195.1,454.48 195.6,454.47 196.1,454.46 196.6,454.44 197.1,454.43 197.6,454.41 198.1,454.39 198.6,454.36 199.1,454.33 199.6,454.3 200.1,454.26 200.6,454.23 201.1,454.19 201.6,454.15 202.1,454.12 202.6,454.08 203.1,454.05 203.6,454.03 204.1,454.01 204.6,454 205.1,454 205.6,454.01 206.1,454.02 206.6,454.04 207.1,454.06 207.6,454.1 208.1,454.13 208.6,454.17 209.1,454.2 209.6,454.24 210.1,454.28 210.6,454.31 211.1,454.34 211.6,454.37 212.1,454.4 212.6,454.42 213.1,454.44 213.6,454.45 214.1,454.46 214.6,454.47 215.1,454.48 215.6,454.49 216.1,454.49 216.6,454.49 217.1,454.49 217.6,454.5 218.1,454.5 218.6,454.5 219.1,454.5 219.6,454.5 220.1,454.5 220.6,454.5 221.1,454.49 221.6,454.49 222.1,454.49 222.6,454.48 223.1,454.48 223.6,454.47 224.1,454.46 224.6,454.44 225.1,454.43 225.6,454.41 226.1,454.39 226.6,454.36 227.1,454.33 227.6,454.3 228.1,454.26 228.6,454.23 229.1,454.19 229.6,454.15 230.1,454.12 230.6,454.08 231.1,454.05 231.6,454.03 232.1,454.01 232.6,454 233.1,454 233.6,454.01 234.1,454.02 234.6,454.04 235.1,454.06 235.6,454.1 236.1,454.13 236.6,454.17 237.1,454.2 237.6,454.24 238.1,454.28 238.6,454.31 239.1,454.34 239.6,454.37 240.1,454.4 240.6,454.42 241.1,454.44 241.6,454.45 242.1,454.46 242.6,454.47 243.1,454.48 243.6,454.49 244.1,454.49 244.6,454.49 245.1,454.49 245.6,454.5 246.1,454.5 246.6,454.5 247.1,454.5 247.6,454.5 248.1,454.5 248.6,454.5 249.1,454.5 249.6,454.5 250.1,454.5 250.6,454.5 251.1,454.5 251.6,454.5 252.1,454.5 252.6,454.5 253.1,454.5 253.6,454.5 254.1,454.5 254.6,454.5 255.1,454.5 255.6,454.5 256.1,454.5 256.6,454.5 257.1,454.5 257.6,454.5 258.1,454.5 258.6,454.5" class="tr"/>
<line x1="310" y1="30.6" x2="310" y2="139.8" class="ax"/>
<line x1="305.3" y1="139.8" x2="544.2" y2="139.8" class="xa"/>
<line x1="304.8" y1="139.8" x2="310" y2="139.8" class="tk"/>
<line x1="307.2" y1="128.98" x2="310" y2="128.98" class="tk"/>
<line x1="307.2" y1="118.16" x2="310" y2="118.16" class="tk"/>
<line x1="307.2" y1="107.34" x2="310" y2="107.34" class="tk"/>
<line x1="307.2" y1="96.52" x2="310" y2="96.52" class="tk"/>
<line x1="304.8" y1="85.7" x2="310" y2="85.7" class="tk"/>
<line x1="307.2" y1="74.88" x2="310" y2="74.88" class="tk"/>
<line x1="307.2" y1="64.06" x2="310" y2="64.06" class="tk"/>
<line x1="307.2" y1="53.24" x2="310" y2="53.24" class="tk"/>
<line x1="307.2" y1="42.42" x2="310" y2="42.42" class="tk"/>
<line x1="304.8" y1="31.6" x2="310" y2="31.6" class="tk"/>
<line x1="315.8" y1="139.8" x2="315.8" y2="143.95" class="tk"/>
<line x1="322.36" y1="139.8" x2="322.36" y2="141.8" class="tk"/>
<line x1="328.92" y1="139.8" x2="328.92" y2="141.8" class="tk"/>
<line x1="335.48" y1="139.8" x2="335.48" y2="141.8" class="tk"/>
<line x1="342.04" y1="139.8" x2="342.04" y2="141.8" class="tk"/>
<line x1="348.6" y1="139.8" x2="348.6" y2="143.95" class="tk"/>
<line x1="355.16" y1="139.8" x2="355.16" y2="141.8" class="tk"/>
<line x1="361.72" y1="139.8" x2="361.72" y2="141.8" class="tk"/>
<line x1="368.28" y1="139.8" x2="368.28" y2="141.8" class="tk"/>
<line x1="374.84" y1="139.8" x2="374.84" y2="141.8" class="tk"/>
<line x1="381.4" y1="139.8" x2="381.4" y2="143.95" class="tk"/>
<line x1="387.96" y1="139.8" x2="387.96" y2="141.8" class="tk"/>
<line x1="394.52" y1="139.8" x2="394.52" y2="141.8" class="tk"/>
<line x1="401.08" y1="139.8" x2="401.08" y2="141.8" class="tk"/>
<line x1="407.64" y1="139.8" x2="407.64" y2="141.8" class="tk"/>
<line x1="414.2" y1="139.8" x2="414.2" y2="143.95" class="tk"/>
<line x1="420.76" y1="139.8" x2="420.76" y2="141.8" class="tk"/>
<line x1="427.32" y1="139.8" x2="427.32" y2="141.8" class="tk"/>
<line x1="433.88" y1="139.8" x2="433.88" y2="141.8" class="tk"/>
<line x1="440.44" y1="139.8" x2="440.44" y2="141.8" class="tk"/>
<line x1="447" y1="139.8" x2="447" y2="143.95" class="tk"/>
<line x1="453.56" y1="139.8" x2="453.56" y2="141.8" class="tk"/>
<line x1="460.12" y1="139.8" x2="460.12" y2="141.8" class="tk"/>
<line x1="466.68" y1="139.8" x2="466.68" y2="141.8" class="tk"/>
<line x1="473.24" y1="139.8" x2="473.24" y2="141.8" class="tk"/>
<line x1="479.8" y1="139.8" x2="479.8" y2="143.95" class="tk"/>
<line x1="486.36" y1="139.8" x2="486.36" y2="141.8" class="tk"/>
<line x1="492.92" y1="139.8" x2="492.92" y2="141.8" class="tk"/>
<line x1="499.48" y1="139.8" x2="499.48" y2="141.8" class="tk"/>
<line x1="506.04" y1="139.8" x2="506.04" y2="141.8" class="tk"/>
<line x1="512.6" y1="139.8" x2="512.6" y2="143.95" class="tk"/>
<line x1="519.16" y1="139.8" x2="519.16" y2="141.8" class="tk"/>
<line x1="525.72" y1="139.8" x2="525.72" y2="141.8" class="tk"/>
<line x1="532.28" y1="139.8" x2="532.28" y2="141.8" class="tk"/>
<line x1="538.84" y1="139.8" x2="538.84" y2="141.8" class="tk"/>
<polyline points="311,139.7 311.5,139.7 312,139.7 312.5,139.7 313,139.7 313.5,139.7 314,139.7 314.5,139.7 315,139.7 315.5,139.7 316,139.7 316.5,139.7 317,139.7 317.5,139.7 318,139.7 318.5,139.7 319,139.7 319.5,139.7 320,139.7 320.5,139.7 321,139.7 321.5,139.7 322,139.7 322.5,139.7 323,139.7 323.5,139.7 324,139.7 324.5,139.7 325,139.7 325.5,139.7 326,139.7 326.5,139.7 327,139.7 327.5,139.7 328,139.7 328.5,139.7 329,139.7 329.5,139.7 330,139.7 330.5,139.7 331,139.7 331.5,139.7 332,139.7 332.5,139.7 333,139.7 333.5,139.7 334,139.7 334.5,139.7 335,139.7 335.5,139.7 336,139.7 336.5,139.7 337,139.7 337.5,139.7 338,139.7 338.5,139.7 339,139.7 339.5,139.7 340,139.7 340.5,139.7 341,139.7 341.5,139.7 342,139.7 342.5,139.7 343,139.7 343.5,139.7 344,139.7 344.5,139.7 345,139.7 345.5,139.7 346,139.7 346.5,139.7 347,139.7 347.5,139.7 348,139.7 348.5,139.7 349,139.7 349.5,139.7 350,139.7 350.5,139.7 351,139.7 351.5,139.7 352,139.7 352.5,139.7 353,139.7 353.5,139.7 354,139.7 354.5,139.7 355,139.7 355.5,139.7 356,139.7 356.5,139.7 357,139.7 357.5,139.7 358,139.7 358.5,139.7 359,139.7 359.5,139.7 360,139.7 360.5,139.7 361,139.7 361.5,139.7 362,139.7 362.5,139.7 363,139.7 363.5,139.7 364,139.7 364.5,139.7 365,139.7 365.5,139.7 366,139.7 366.5,139.7 367,139.7 367.5,139.7 368,139.7 368.5,139.7 369,139.7 369.5,139.7 370,139.7 370.5,139.7 371,139.7 371.5,139.7 372,139.7 372.5,139.7 373,139.7 373.5,139.7 374,139.7 374.5,139.7 375,139.7 375.5,139.7 376,139.7 376.5,139.7 377,139.7 377.5,139.7 378,139.7 378.5,139.7 379,139.7 379.5,139.7 380,139.7 380.5,139.7 381,139.7 381.5,139.7 382,139.7 382.5,139.7 383,139.7 383.5,139.7 384,139.7 384.5,139.7 385,139.7 385.5,139.7 386,139.7 386.5,139.7 387,139.7 387.5,139.7 388,139.7 388.5,139.7 389,139.7 389.5,139.7 390,139.7 390.5,139.7 391,139.7 391.5,139.7 392,139.7 392.5,139.7 393,139.7 393.5,139.7 394,139.7 394.5,139.7 395,139.7 395.5,139.7 396,139.7 396.5,139.7 397,139.7 397.5,139.7 398,139.7 398.5,139.7 399,139.7 399.5,139.7 400,139.7 400.5,139.7 401,139.7 401.5,139.7 402,139.7 402.5,139.7 403,139.7 403.5,139.7 404,139.7 404.5,139.7 405,139.7 405.5,139.7 406,139.7 406.5,139.7 407,139.7 407.5,139.7 408,139.7 408.5,139.7 409,139.7 409.5,139.7 410,139.7 410.5,139.7 411,139.7 411.5,139.7 412,139.7 412.5,139.7 413,139.7 413.5,139.7 414,139.7 414.5,139.7 415,139.7 415.5,139.7 416,139.7 416.5,139.7 417,139.7 417.5,139.7 418,139.7 418.5,139.7 419,139.7 419.5,139.7 420,139.7 420.5,139.7 421,139.7 421.5,139.7 422,139.7 422.5,139.7 423,139.7 423.5,139.7 424,139.7 424.5,139.7 425,139.7 425.5,139.7 426,139.7 426.5,139.7 427,139.7 427.5,139.7 428,139.7 428.5,139.7 429,139.7 429.5,139.7 430,139.7 430.5,139.7 431,139.7 431.5,139.7 432,139.7 432.5,139.7 433,139.7 433.5,139.7 434,139.7 434.5,139.7 435,139.7 435.5,139.7 436,139.7 436.5,139.7 437,139.7 437.5,139.7 438,139.7 438.5,139.7 439,139.7 439.5,139.7 440,139.7 440.5,139.7 441,139.7 441.5,139.7 442,139.7 442.5,139.7 443,139.7 443.5,139.7 444,139.7 444.5,139.7 445,139.7 445.5,139.7 446,139.7 446.5,139.7 447,139.7 447.5,139.7 448,139.7 448.5,139.7 449,139.7 449.5,139.7 450,139.7 450.5,139.7 451,139.7 451.5,139.7 452,139.7 452.5,139.7 453,139.7 453.5,139.7 454,139.7 454.5,139.7 455,139.7 455.5,139.7 456,139.7 456.5,139.7 457,139.7 457.5,139.7 458,139.7 458.5,139.7 459,139.7 459.5,139.7 460,139.7 460.5,139.7 461,139.7 461.5,139.7 462,139.7 462.5,139.7 463,139.7 463.5,139.7 464,139.7 464.5,139.7 465,139.7 465.5,139.7 466,139.7 466.5,139.7 467,139.7 467.5,139.7 468,139.7 468.5,139.7 469,139.7 469.5,139.7 470,139.7 470.5,139.7 471,139.7 471.5,139.7 472,139.7 472.5,139.7 473,139.7 473.5,139.7 474,139.7 474.5,139.7 475,139.7 475.5,139.7 476,139.7 476.5,139.7 477,139.69 477.5,139.68 478,139.66 478.5,139.61 479,139.5 479.5,139.28 480,138.89 480.5,138.21 481,137.08 481.5,135.34 482,132.8 482.5,129.32 483,124.84 483.5,119.42 484,113.29 484.5,106.84 485,100.58 485.5,95.04 486,90.69 486.5,87.88 487,86.73 487.5,87.2 488,89.04 488.5,91.94 489,95.52 489.5,99.46 490,103.47 490.5,107.35 491,110.99 491.5,114.31 492,117.3 492.5,119.97 493,122.33 493.5,124.42 494,126.25 494.5,127.87 495,129.29 495.5,130.55 496,131.65 496.5,132.62 497,133.47 497.5,134.22 498,134.88 498.5,135.46 499,135.97 499.5,136.42 500,136.81 500.5,137.16 501,137.47 501.5,137.73 502,137.97 502.5,138.18 503,138.36 503.5,138.52 504,138.66 504.5,138.79 505,138.9 505.5,139 506,139.08 506.5,139.15 507,139.22 507.5,139.28 508,139.33 508.5,139.37 509,139.41 509.5,139.45 510,139.48 510.5,139.5 511,139.53 511.5,139.55 512,139.57 512.5,139.58 513,139.6 513.5,139.61 514,139.62 514.5,139.63 515,139.64 515.5,139.65 516,139.65 516.5,139.66 517,139.66 517.5,139.67 518,139.67 518.5,139.67 519,139.68 519.5,139.68 520,139.68 520.5,139.68 521,139.69 521.5,139.69 522,139.69 522.5,139.69 523,139.69 523.5,139.69 524,139.69 524.5,139.69 525,139.7 525.5,139.7 526,139.7 526.5,139.7 527,139.7 527.5,139.7 528,139.7 528.5,139.7 529,139.7 529.5,139.7 530,139.7 530.5,139.7 531,139.7 531.5,139.7 532,139.7 532.5,139.7 533,139.7 533.5,139.7 534,139.7 534.5,139.7 535,139.7 535.5,139.7 536,139.7 536.5,139.7 537,139.7 537.5,139.7 538,139.7 538.5,139.7 539,139.7 539.5,139.7 540,139.7 540.5,139.7 541,139.7 541.5,139.7 542,139.7 542.5,139.7 543,139.7 543.5,139.7" class="tr"/>
<line x1="310" y1="185.7" x2="310" y2="294.35" class="ax"/>
<line x1="305.3" y1="294.35" x2="544.2" y2="294.35" class="xa"/>
<line x1="304.8" y1="294.35" x2="310" y2="294.35" class="tk"/>
<line x1="307.2" y1="283.59" x2="310" y2="283.59" class="tk"/>
<line x1="307.2" y1="272.82" x2="310" y2="272.82" class="tk"/>
<line x1="307.2" y1="262.06" x2="310" y2="262.06" class="tk"/>
<line x1="307.2" y1="251.29" x2="310" y2="251.29" class="tk"/>
<line x1="304.8" y1="240.53" x2="310" y2="240.53" class="tk"/>
<line x1="307.2" y1="229.76" x2="310" y2="229.76" class="tk"/>
<line x1="307.2" y1="219" x2="310" y2="219" class="tk"/>
<line x1="307.2" y1="208.23" x2="310" y2="208.23" class="tk"/>
<line x1="307.2" y1="197.46" x2="310" y2="197.46" class="tk"/>
<line x1="304.8" y1="186.7" x2="310" y2="186.7" class="tk"/>
<line x1="315.8" y1="294.35" x2="315.8" y2="298.5" class="tk"/>
<line x1="322.36" y1="294.35" x2="322.36" y2="296.35" class="tk"/>
<line x1="328.92" y1="294.35" x2="328.92" y2="296.35" class="tk"/>
<line x1="335.48" y1="294.35" x2="335.48" y2="296.35" class="tk"/>
<line x1="342.04" y1="294.35" x2="342.04" y2="296.35" class="tk"/>
<line x1="348.6" y1="294.35" x2="348.6" y2="298.5" class="tk"/>
<line x1="355.16" y1="294.35" x2="355.16" y2="296.35" class="tk"/>
<line x1="361.72" y1="294.35" x2="361.72" y2="296.35" class="tk"/>
<line x1="368.28" y1="294.35" x2="368.28" y2="296.35" class="tk"/>
<line x1="374.84" y1="294.35" x2="374.84" y2="296.35" class="tk"/>
<line x1="381.4" y1="294.35" x2="381.4" y2="298.5" class="tk"/>
<line x1="387.96" y1="294.35" x2="387.96" y2="296.35" class="tk"/>
<line x1="394.52" y1="294.35" x2="394.52" y2="296.35" class="tk"/>
<line x1="401.08" y1="294.35" x2="401.08" y2="296.35" class="tk"/>
<line x1="407.64" y1="294.35" x2="407.64" y2="296.35" class="tk"/>
<line x1="414.2" y1="294.35" x2="414.2" y2="298.5" class="tk"/>
<line x1="420.76" y1="294.35" x2="420.76" y2="296.35" class="tk"/>
<line x1="427.32" y1="294.35" x2="427.32" y2="296.35" class="tk"/>
<line x1="433.88" y1="294.35" x2="433.88" y2="296.35" class="tk"/>
<line x1="440.44" y1="294.35" x2="440.44" y2="296.35" class="tk"/>
<line x1="447" y1="294.35" x2="447" y2="298.5" class="tk"/>
<line x1="453.56" y1="294.35" x2="453.56" y2="296.35" class="tk"/>
<line x1="460.12" y1="294.35" x2="460.12" y2="296.35" class="tk"/>
<line x1="466.68" y1="294.35" x2="466.68" y2="296.35" class="tk"/>
<line x1="473.24" y1="294.35" x2="473.24" y2="296.35" class="tk"/>
<line x1="479.8" y1="294.35" x2="479.8" y2="298.5" class="tk"/>
<line x1="486.36" y1="294.35" x2="486.36" y2="296.35" class="tk"/>
<line x1="492.92" y1="294.35" x2="492.92" y2="296.35" class="tk"/>
<line x1="499.48" y1="294.35" x2="499.48" y2="296.35" class="tk"/>
<line x1="506.04" y1="294.35" x2="506.04" y2="296.35" class="tk"/>
<line x1="512.6" y1="294.35" x2="512.6" y2="298.5" class="tk"/>
<line x1="519.16" y1="294.35" x2="519.16" y2="296.35" class="tk"/>
<line x1="525.72" y1="294.35" x2="525.72" y2="296.35" class="tk"/>
<line x1="532.28" y1="294.35" x2="532.28" y2="296.35" class="tk"/>
<line x1="538.84" y1="294.35" x2="538.84" y2="296.35" class="tk"/>
<polyline points="311,294 311.5,294 312,294 312.5,294 313,294 313.5,294 314,294 314.5,294 315,294 315.5,294 316,294 316.5,294 317,294 317.5,294 318,294 318.5,294 319,294 319.5,294 320,294 320.5,294 321,294 321.5,294 322,294 322.5,294 323,294 323.5,294 324,294 324.5,294 325,294 325.5,294 326,294 326.5,294 327,294 327.5,294 328,294 328.5,294 329,294 329.5,294 330,294 330.5,294 331,294 331.5,294 332,294 332.5,294 333,294 333.5,294 334,294 334.5,294 335,294 335.5,294 336,294 336.5,294 337,294 337.5,294 338,294 338.5,294 339,294 339.5,294 340,294 340.5,294 341,294 341.5,294 342,294 342.5,294 343,294 343.5,294 344,294 344.5,294 345,294 345.5,294 346,294 346.5,294 347,294 347.5,294 348,294 348.5,294 349,294 349.5,294 350,294 350.5,294 351,294 351.5,294 352,294 352.5,294 353,294 353.5,294 354,294 354.5,294 355,294 355.5,294 356,294 356.5,294 357,294 357.5,294 358,294 358.5,294 359,294 359.5,294 360,294 360.5,294 361,294 361.5,294 362,294 362.5,294 363,294 363.5,294 364,294 364.5,294 365,294 365.5,294 366,294 366.5,294 367,294 367.5,294 368,294 368.5,294 369,294 369.5,294 370,294 370.5,294 371,294 371.5,294 372,294 372.5,294 373,294 373.5,294 374,294 374.5,294 375,294 375.5,294 376,294 376.5,294 377,294 377.5,294 378,294 378.5,294 379,294 379.5,294 380,294 380.5,294 381,294 381.5,294 382,294 382.5,294 383,294 383.5,294 384,294 384.5,294 385,294 385.5,294 386,294 386.5,294 387,294 387.5,294 388,294 388.5,294 389,294 389.5,294 390,294 390.5,294 391,294 391.5,294 392,294 392.5,294 393,294 393.5,294 394,294 394.5,294 395,294 395.5,294 396,294 396.5,294 397,294 397.5,294 398,294 398.5,294 399,294 399.5,294 400,294 400.5,294 401,294 401.5,294 402,294 402.5,294 403,294 403.5,294 404,294 404.5,294 405,294 405.5,294 406,294 406.5,294 407,294 407.5,294 408,294 408.5,294 409,294 409.5,294 410,294 410.5,294 411,294 411.5,294 412,294 412.5,294 413,294 413.5,294 414,294 414.5,294 415,294 415.5,294 416,294 416.5,294 417,294 417.5,294 418,294 418.5,294 419,294 419.5,294 420,294 420.5,294 421,294 421.5,294 422,294 422.5,294 423,294 423.5,294 424,294 424.5,294 425,294 425.5,294 426,294 426.5,294 427,294 427.5,294 428,294 428.5,294 429,294 429.5,294 430,294 430.5,294 431,294 431.5,294 432,294 432.5,294 433,294 433.5,294 434,294 434.5,294 435,294 435.5,294 436,294 436.5,294 437,294 437.5,294 438,294 438.5,294 439,294 439.5,294 440,294 440.5,294 441,294 441.5,294 442,294 442.5,294 443,294 443.5,294 444,294 444.5,294 445,294 445.5,294 446,294 446.5,294 447,294 447.5,294 448,294 448.5,294 449,294 449.5,294 450,294 450.5,294 451,294 451.5,294 452,294 452.5,294 453,294 453.5,294 454,294 454.5,294 455,294 455.5,294 456,294 456.5,294 457,294 457.5,294 458,294 458.5,294 459,294 459.5,294 460,294 460.5,294 461,294 461.5,294 462,294 462.5,294 463,294 463.5,294 464,294 464.5,294 465,294 465.5,294 466,294 466.5,294 467,294 467.5,294 468,294 468.5,294 469,294 469.5,294 470,294 470.5,294 471,294 471.5,294 472,294 472.5,294 473,294 473.5,294 474,294 474.5,294 475,294 475.5,294 476,294 476.5,294 477,293.99 477.5,293.98 478,293.96 478.5,293.9 479,293.79 479.5,293.57 480,293.17 480.5,292.47 481,291.32 481.5,289.54 482,286.95 482.5,283.39 483,278.8 483.5,273.26 484,266.99 484.5,260.4 485,253.99 485.5,248.33 486,243.88 486.5,241 487,239.83 487.5,240.31 488,242.19 488.5,245.16 489,248.82 489.5,252.85 490,256.95 490.5,260.92 491,264.64 491.5,268.04 492,271.1 492.5,273.82 493,276.24 493.5,278.37 494,280.25 494.5,281.9 495,283.36 495.5,284.64 496,285.76 496.5,286.76 497,287.63 497.5,288.39 498,289.07 498.5,289.66 499,290.18 499.5,290.64 500,291.05 500.5,291.4 501,291.71 501.5,291.99 502,292.23 502.5,292.44 503,292.63 503.5,292.8 504,292.94 504.5,293.07 505,293.18 505.5,293.28 506,293.37 506.5,293.44 507,293.51 507.5,293.57 508,293.62 508.5,293.67 509,293.71 509.5,293.74 510,293.77 510.5,293.8 511,293.82 511.5,293.85 512,293.86 512.5,293.88 513,293.89 513.5,293.91 514,293.92 514.5,293.93 515,293.94 515.5,293.94 516,293.95 516.5,293.96 517,293.96 517.5,293.97 518,293.97 518.5,293.97 519,293.98 519.5,293.98 520,293.98 520.5,293.98 521,293.99 521.5,293.99 522,293.99 522.5,293.99 523,293.99 523.5,293.99 524,293.99 524.5,293.99 525,294 525.5,294 526,294 526.5,294 527,294 527.5,294 528,294 528.5,294 529,294 529.5,294 530,294 530.5,294 531,294 531.5,294 532,294 532.5,294 533,294 533.5,294 534,294 534.5,294 535,294 535.5,294 536,294 536.5,294 537,294 537.5,294 538,294 538.5,294 539,294 539.5,294 540,294 540.5,294 541,294 541.5,294 542,294 542.5,294 543,294 543.5,294" class="tr"/>
<line x1="310" y1="346" x2="310" y2="455.4" class="ax"/>
<line x1="305.3" y1="455.4" x2="544.2" y2="455.4" class="xa"/>
<line x1="304.8" y1="455.4" x2="310" y2="455.4" class="tk"/>
<line x1="307.2" y1="444.56" x2="310" y2="444.56" class="tk"/>
<line x1="307.2" y1="433.72" x2="310" y2="433.72" class="tk"/>
<line x1="307.2" y1="422.88" x2="310" y2="422.88" class="tk"/>
<line x1="307.2" y1="412.04" x2="310" y2="412.04" class="tk"/>
<line x1="304.8" y1="401.2" x2="310" y2="401.2" class="tk"/>
<line x1="307.2" y1="390.36" x2="310" y2="390.36" class="tk"/>
<line x1="307.2" y1="379.52" x2="310" y2="379.52" class="tk"/>
<line x1="307.2" y1="368.68" x2="310" y2="368.68" class="tk"/>
<line x1="307.2" y1="357.84" x2="310" y2="357.84" class="tk"/>
<line x1="304.8" y1="347" x2="310" y2="347" class="tk"/>
<line x1="315.8" y1="455.4" x2="315.8" y2="459.55" class="tk"/>
<line x1="322.36" y1="455.4" x2="322.36" y2="457.4" class="tk"/>
<line x1="328.92" y1="455.4" x2="328.92" y2="457.4" class="tk"/>
<line x1="335.48" y1="455.4" x2="335.48" y2="457.4" class="tk"/>
<line x1="342.04" y1="455.4" x2="342.04" y2="457.4" class="tk"/>
<line x1="348.6" y1="455.4" x2="348.6" y2="459.55" class="tk"/>
<line x1="355.16" y1="455.4" x2="355.16" y2="457.4" class="tk"/>
<line x1="361.72" y1="455.4" x2="361.72" y2="457.4" class="tk"/>
<line x1="368.28" y1="455.4" x2="368.28" y2="457.4" class="tk"/>
<line x1="374.84" y1="455.4" x2="374.84" y2="457.4" class="tk"/>
<line x1="381.4" y1="455.4" x2="381.4" y2="459.55" class="tk"/>
<line x1="387.96" y1="455.4" x2="387.96" y2="457.4" class="tk"/>
<line x1="394.52" y1="455.4" x2="394.52" y2="457.4" class="tk"/>
<line x1="401.08" y1="455.4" x2="401.08" y2="457.4" class="tk"/>
<line x1="407.64" y1="455.4" x2="407.64" y2="457.4" class="tk"/>
<line x1="414.2" y1="455.4" x2="414.2" y2="459.55" class="tk"/>
<line x1="420.76" y1="455.4" x2="420.76" y2="457.4" class="tk"/>
<line x1="427.32" y1="455.4" x2="427.32" y2="457.4" class="tk"/>
<line x1="433.88" y1="455.4" x2="433.88" y2="457.4" class="tk"/>
<line x1="440.44" y1="455.4" x2="440.44" y2="457.4" class="tk"/>
<line x1="447" y1="455.4" x2="447" y2="459.55" class="tk"/>
<line x1="453.56" y1="455.4" x2="453.56" y2="457.4" class="tk"/>
<line x1="460.12" y1="455.4" x2="460.12" y2="457.4" class="tk"/>
<line x1="466.68" y1="455.4" x2="466.68" y2="457.4" class="tk"/>
<line x1="473.24" y1="455.4" x2="473.24" y2="457.4" class="tk"/>
<line x1="479.8" y1="455.4" x2="479.8" y2="459.55" class="tk"/>
<line x1="486.36" y1="455.4" x2="486.36" y2="457.4" class="tk"/>
<line x1="492.92" y1="455.4" x2="492.92" y2="457.4" class="tk"/>
<line x1="499.48" y1="455.4" x2="499.48" y2="457.4" class="tk"/>
<line x1="506.04" y1="455.4" x2="506.04" y2="457.4" class="tk"/>
<line x1="512.6" y1="455.4" x2="512.6" y2="459.55" class="tk"/>
<line x1="519.16" y1="455.4" x2="519.16" y2="457.4" class="tk"/>
<line x1="525.72" y1="455.4" x2="525.72" y2="457.4" class="tk"/>
<line x1="532.28" y1="455.4" x2="532.28" y2="457.4" class="tk"/>
<line x1="538.84" y1="455.4" x2="538.84" y2="457.4" class="tk"/>
<polyline points="311,454.7 311.5,454.7 312,454.7 312.5,454.7 313,454.7 313.5,454.7 314,454.7 314.5,454.7 315,454.7 315.5,454.7 316,454.7 316.5,454.7 317,454.7 317.5,454.7 318,454.7 318.5,454.7 319,454.7 319.5,454.7 320,454.7 320.5,454.7 321,454.7 321.5,454.7 322,454.7 322.5,454.7 323,454.7 323.5,454.7 324,454.7 324.5,454.7 325,454.7 325.5,454.7 326,454.7 326.5,454.7 327,454.7 327.5,454.7 328,454.7 328.5,454.7 329,454.7 329.5,454.7 330,454.7 330.5,454.7 331,454.7 331.5,454.7 332,454.7 332.5,454.7 333,454.7 333.5,454.7 334,454.7 334.5,454.7 335,454.7 335.5,454.7 336,454.7 336.5,454.7 337,454.7 337.5,454.7 338,454.7 338.5,454.7 339,454.7 339.5,454.7 340,454.7 340.5,454.7 341,454.7 341.5,454.7 342,454.7 342.5,454.7 343,454.7 343.5,454.7 344,454.7 344.5,454.7 345,454.7 345.5,454.7 346,454.7 346.5,454.7 347,454.7 347.5,454.7 348,454.7 348.5,454.7 349,454.7 349.5,454.7 350,454.7 350.5,454.7 351,454.7 351.5,454.7 352,454.7 352.5,454.7 353,454.7 353.5,454.7 354,454.7 354.5,454.7 355,454.7 355.5,454.7 356,454.7 356.5,454.7 357,454.7 357.5,454.7 358,454.7 358.5,454.7 359,454.7 359.5,454.7 360,454.7 360.5,454.7 361,454.7 361.5,454.7 362,454.7 362.5,454.7 363,454.7 363.5,454.7 364,454.7 364.5,454.7 365,454.7 365.5,454.7 366,454.69 366.5,454.69 367,454.69 367.5,454.68 368,454.67 368.5,454.66 369,454.65 369.5,454.63 370,454.6 370.5,454.57 371,454.53 371.5,454.49 372,454.43 372.5,454.37 373,454.29 373.5,454.21 374,454.12 374.5,454.03 375,453.93 375.5,453.83 376,453.74 376.5,453.65 377,453.57 377.5,453.5 378,453.45 378.5,453.41 379,453.4 379.5,453.41 380,453.43 380.5,453.48 381,453.54 381.5,453.61 382,453.7 382.5,453.79 383,453.89 383.5,453.99 384,454.09 384.5,454.18 385,454.26 385.5,454.34 386,454.41 386.5,454.47 387,454.52 387.5,454.56 388,454.59 388.5,454.62 389,454.64 389.5,454.66 390,454.67 390.5,454.68 391,454.68 391.5,454.69 392,454.69 392.5,454.7 393,454.7 393.5,454.7 394,454.7 394.5,454.7 395,454.7 395.5,454.7 396,454.7 396.5,454.7 397,454.7 397.5,454.7 398,454.7 398.5,454.7 399,454.7 399.5,454.7 400,454.7 400.5,454.7 401,454.7 401.5,454.7 402,454.7 402.5,454.7 403,454.7 403.5,454.7 404,454.7 404.5,454.7 405,454.7 405.5,454.7 406,454.7 406.5,454.7 407,454.7 407.5,454.7 408,454.7 408.5,454.7 409,454.7 409.5,454.7 410,454.7 410.5,454.7 411,454.7 411.5,454.7 412,454.7 412.5,454.7 413,454.7 413.5,454.7 414,454.7 414.5,454.7 415,454.7 415.5,454.7 416,454.7 416.5,454.7 417,454.7 417.5,454.7 418,454.7 418.5,454.7 419,454.7 419.5,454.7 420,454.7 420.5,454.7 421,454.7 421.5,454.7 422,454.7 422.5,454.7 423,454.7 423.5,454.7 424,454.7 424.5,454.7 425,454.7 425.5,454.7 426,454.7 426.5,454.7 427,454.7 427.5,454.7 428,454.7 428.5,454.7 429,454.7 429.5,454.7 430,454.7 430.5,454.7 431,454.7 431.5,454.7 432,454.7 432.5,454.7 433,454.7 433.5,454.7 434,454.7 434.5,454.7 435,454.7 435.5,454.7 436,454.7 436.5,454.7 437,454.7 437.5,454.7 438,454.7 438.5,454.7 439,454.7 439.5,454.7 440,454.7 440.5,454.7 441,454.7 441.5,454.7 442,454.7 442.5,454.7 443,454.7 443.5,454.7 444,454.7 444.5,454.7 445,454.7 445.5,454.7 446,454.7 446.5,454.7 447,454.7 447.5,454.7 448,454.7 448.5,454.7 449,454.7 449.5,454.7 450,454.7 450.5,454.7 451,454.7 451.5,454.7 452,454.7 452.5,454.7 453,454.7 453.5,454.7 454,454.7 454.5,454.7 455,454.7 455.5,454.7 456,454.7 456.5,454.7 457,454.7 457.5,454.7 458,454.7 458.5,454.7 459,454.7 459.5,454.7 460,454.7 460.5,454.7 461,454.7 461.5,454.7 462,454.7 462.5,454.7 463,454.7 463.5,454.7 464,454.7 464.5,454.7 465,454.7 465.5,454.7 466,454.7 466.5,454.7 467,454.7 467.5,454.7 468,454.7 468.5,454.7 469,454.7 469.5,454.7 470,454.7 470.5,454.7 471,454.7 471.5,454.7 472,454.7 472.5,454.7 473,454.7 473.5,454.7 474,454.7 474.5,454.7 475,454.7 475.5,454.7 476,454.7 476.5,454.7 477,454.7 477.5,454.7 478,454.69 478.5,454.68 479,454.66 479.5,454.6 480,454.49 480.5,454.27 481,453.87 481.5,453.17 482,452.02 482.5,450.24 483,447.65 483.5,444.09 484,439.5 484.5,433.96 485,427.69 485.5,421.1 486,414.69 486.5,409.03 487,404.58 487.5,401.7 488,400.53 488.5,401.01 489,402.89 489.5,405.86 490,409.52 490.5,413.55 491,417.65 491.5,421.62 492,425.34 492.5,428.74 493,431.8 493.5,434.52 494,436.94 494.5,439.07 495,440.95 495.5,442.6 496,444.06 496.5,445.34 497,446.46 497.5,447.46 498,448.33 498.5,449.09 499,449.77 499.5,450.36 500,450.88 500.5,451.34 501,451.75 501.5,452.1 502,452.41 502.5,452.69 503,452.93 503.5,453.14 504,453.33 504.5,453.5 505,453.64 505.5,453.77 506,453.88 506.5,453.98 507,454.07 507.5,454.14 508,454.21 508.5,454.27 509,454.32 509.5,454.37 510,454.41 510.5,454.44 511,454.47 511.5,454.5 512,454.52 512.5,454.55 513,454.56 513.5,454.58 514,454.59 514.5,454.61 515,454.62 515.5,454.63 516,454.64 516.5,454.64 517,454.65 517.5,454.66 518,454.66 518.5,454.67 519,454.67 519.5,454.67 520,454.68 520.5,454.68 521,454.68 521.5,454.68 522,454.69 522.5,454.69 523,454.69 523.5,454.69 524,454.69 524.5,454.69 525,454.69 525.5,454.69 526,454.7 526.5,454.7 527,454.7 527.5,454.7 528,454.7 528.5,454.7 529,454.7 529.5,454.7 530,454.7 530.5,454.7 531,454.7 531.5,454.7 532,454.7 532.5,454.7 533,454.7 533.5,454.7 534,454.7 534.5,454.7 535,454.7 535.5,454.7 536,454.7 536.5,454.7 537,454.7 537.5,454.7 538,454.7 538.5,454.7 539,454.7 539.5,454.7 540,454.7 540.5,454.7 541,454.7 541.5,454.7 542,454.7 542.5,454.7 543,454.7 543.5,454.7" class="tr"/>
<text x="133.97" y="13.00" font-size="13.04" font-family="'Liberation Sans', Arial, sans-serif" font-weight="bold" textLength="74.13" lengthAdjust="spacing" transform="scale(0.8 1)" stroke="#000" stroke-width="0.27" fill="#000" text-rendering="geometricPrecision">Linalool (L)</text>
<text x="466.39" y="12.00" font-size="12.66" font-family="'Liberation Sans', Arial, sans-serif" font-weight="bold" textLength="104.39" lengthAdjust="spacing" transform="scale(0.8 1)" stroke="#000" stroke-width="0.27" fill="#000" text-rendering="geometricPrecision"><tspan font-style="italic">t,t</tspan>- Farnesol (IS)</text>
<text x="3.79" y="33.00" font-size="9.46" font-family="'Liberation Sans', Arial, sans-serif" font-weight="bold" textLength="15.45" lengthAdjust="spacing" transform="scale(0.8 1)" stroke="#000" stroke-width="0.27" fill="#000" text-rendering="geometricPrecision">100</text>
<text x="12.58" y="151.00" font-size="9.54" font-family="'Liberation Sans', Arial, sans-serif" font-weight="normal" textLength="4.80" lengthAdjust="spacingAndGlyphs" stroke="#000" stroke-width="0.30" fill="#000" text-rendering="geometricPrecision">0</text>
<text x="17.20" y="85.32" font-size="11.02" font-family="'Liberation Sans', Arial, sans-serif" font-weight="bold" textLength="6.42" lengthAdjust="spacingAndGlyphs" transform="rotate(-90 17.20 85.32)" stroke="#000" stroke-width="0.24" fill="#000" text-rendering="geometricPrecision">%</text>
<text x="268.23" y="40.00" font-size="9.97" font-family="'Liberation Sans', Arial, sans-serif" font-weight="bold" textLength="37.46" lengthAdjust="spacing" transform="scale(0.8 1)" stroke="#000" stroke-width="0.27" fill="#000" text-rendering="geometricPrecision">9.0 x 10</text>
<text x="244.59" y="37.00" font-size="6.75" font-family="'Liberation Sans', Arial, sans-serif" font-weight="bold" textLength="2.83" lengthAdjust="spacingAndGlyphs" stroke="#000" stroke-width="0.24" fill="#000" text-rendering="geometricPrecision">6</text>
<text x="244.07" y="53.00" font-size="9.04" font-family="'Liberation Sans', Arial, sans-serif" font-weight="bold" textLength="62.76" lengthAdjust="spacing" transform="scale(0.8 1)" stroke="#000" stroke-width="0.27" fill="#000" text-rendering="geometricPrecision">137.09 &gt; 95.09</text>
<text x="2.96" y="186.00" font-size="9.12" font-family="'Liberation Sans', Arial, sans-serif" font-weight="bold" textLength="16.05" lengthAdjust="spacing" transform="scale(0.8 1)" stroke="#000" stroke-width="0.27" fill="#000" text-rendering="geometricPrecision">100</text>
<text x="11.60" y="305.00" font-size="9.51" font-family="'Liberation Sans', Arial, sans-serif" font-weight="normal" textLength="4.18" lengthAdjust="spacingAndGlyphs" stroke="#000" stroke-width="0.30" fill="#000" text-rendering="geometricPrecision">0</text>
<text x="17.23" y="238.97" font-size="10.82" font-family="'Liberation Sans', Arial, sans-serif" font-weight="bold" textLength="7.43" lengthAdjust="spacingAndGlyphs" transform="rotate(-90 17.23 238.97)" stroke="#000" stroke-width="0.24" fill="#000" text-rendering="geometricPrecision">%</text>
<text x="268.13" y="195.00" font-size="9.87" font-family="'Liberation Sans', Arial, sans-serif" font-weight="bold" textLength="37.46" lengthAdjust="spacing" transform="scale(0.8 1)" stroke="#000" stroke-width="0.27" fill="#000" text-rendering="geometricPrecision">9.0 x 10</text>
<text x="244.59" y="192.00" font-size="6.75" font-family="'Liberation Sans', Arial, sans-serif" font-weight="bold" textLength="2.83" lengthAdjust="spacingAndGlyphs" stroke="#000" stroke-width="0.24" fill="#000" text-rendering="geometricPrecision">6</text>
<text x="244.53" y="209.00" font-size="9.00" font-family="'Liberation Sans', Arial, sans-serif" font-weight="bold" textLength="62.94" lengthAdjust="spacing" transform="scale(0.8 1)" stroke="#000" stroke-width="0.27" fill="#000" text-rendering="geometricPrecision">137.09 &gt; 95.09</text>
<text x="97.31" y="212.00" font-size="10.24" font-family="'Liberation Sans', Arial, sans-serif" font-weight="bold" textLength="4.69" lengthAdjust="spacingAndGlyphs" stroke="#000" stroke-width="0.24" fill="#000" text-rendering="geometricPrecision">L</text>
<text x="116.83" y="225.00" font-size="9.39" font-family="'Liberation Sans', Arial, sans-serif" font-weight="bold" textLength="19.49" lengthAdjust="spacing" transform="scale(0.8 1)" stroke="#000" stroke-width="0.27" fill="#000" text-rendering="geometricPrecision">0.79</text>
<text x="2.68" y="346.00" font-size="9.23" font-family="'Liberation Sans', Arial, sans-serif" font-weight="bold" textLength="16.18" lengthAdjust="spacing" transform="scale(0.8 1)" stroke="#000" stroke-width="0.27" fill="#000" text-rendering="geometricPrecision">100</text>
<text x="11.68" y="464.00" font-size="9.95" font-family="'Liberation Sans', Arial, sans-serif" font-weight="normal" textLength="4.72" lengthAdjust="spacingAndGlyphs" stroke="#000" stroke-width="0.30" fill="#000" text-rendering="geometricPrecision">0</text>
<text x="16.89" y="398.42" font-size="10.85" font-family="'Liberation Sans', Arial, sans-serif" font-weight="bold" textLength="7.36" lengthAdjust="spacingAndGlyphs" transform="rotate(-90 16.89 398.42)" stroke="#000" stroke-width="0.24" fill="#000" text-rendering="geometricPrecision">%</text>
<text x="268.24" y="353.00" font-size="9.91" font-family="'Liberation Sans', Arial, sans-serif" font-weight="bold" textLength="37.22" lengthAdjust="spacing" transform="scale(0.8 1)" stroke="#000" stroke-width="0.27" fill="#000" text-rendering="geometricPrecision">9.0 x 10</text>
<text x="244.61" y="350.00" font-size="7.24" font-family="'Liberation Sans', Arial, sans-serif" font-weight="bold" textLength="2.80" lengthAdjust="spacingAndGlyphs" stroke="#000" stroke-width="0.24" fill="#000" text-rendering="geometricPrecision">6</text>
<text x="244.51" y="367.00" font-size="8.95" font-family="'Liberation Sans', Arial, sans-serif" font-weight="bold" textLength="63.06" lengthAdjust="spacing" transform="scale(0.8 1)" stroke="#000" stroke-width="0.27" fill="#000" text-rendering="geometricPrecision">137.09 &gt; 95.09</text>
<text x="97.96" y="428.00" font-size="11.43" font-family="'Liberation Sans', Arial, sans-serif" font-weight="bold" textLength="4.33" lengthAdjust="spacingAndGlyphs" stroke="#000" stroke-width="0.24" fill="#000" text-rendering="geometricPrecision">L</text>
<text x="116.35" y="441.00" font-size="8.87" font-family="'Liberation Sans', Arial, sans-serif" font-weight="bold" textLength="19.55" lengthAdjust="spacing" transform="scale(0.8 1)" stroke="#000" stroke-width="0.27" fill="#000" text-rendering="geometricPrecision">0.79</text>
<text x="315.71" y="468.00" font-size="10.53" font-family="'Liberation Sans', Arial, sans-serif" font-weight="bold" textLength="21.19" lengthAdjust="spacing" transform="scale(0.8 1)" stroke="#000" stroke-width="0.27" fill="#000" text-rendering="geometricPrecision">Time</text>
<text x="354.44" y="38.00" font-size="9.89" font-family="'Liberation Sans', Arial, sans-serif" font-weight="bold" textLength="16.03" lengthAdjust="spacing" transform="scale(0.8 1)" stroke="#000" stroke-width="0.27" fill="#000" text-rendering="geometricPrecision">100</text>
<text x="295.99" y="144.00" font-size="10.08" font-family="'Liberation Sans', Arial, sans-serif" font-weight="normal" textLength="5.00" lengthAdjust="spacingAndGlyphs" stroke="#000" stroke-width="0.30" fill="#000" text-rendering="geometricPrecision">0</text>
<text x="300.27" y="86.84" font-size="10.70" font-family="'Liberation Sans', Arial, sans-serif" font-weight="bold" textLength="7.04" lengthAdjust="spacingAndGlyphs" transform="rotate(-90 300.27 86.84)" stroke="#000" stroke-width="0.24" fill="#000" text-rendering="geometricPrecision">%</text>
<text x="615.45" y="43.00" font-size="10.61" font-family="'Liberation Sans', Arial, sans-serif" font-weight="bold" textLength="36.99" lengthAdjust="spacing" transform="scale(0.8 1)" stroke="#000" stroke-width="0.27" fill="#000" text-rendering="geometricPrecision">9.0 x 10</text>
<text x="522.40" y="40.00" font-size="7.02" font-family="'Liberation Sans', Arial, sans-serif" font-weight="bold" textLength="2.56" lengthAdjust="spacingAndGlyphs" stroke="#000" stroke-width="0.24" fill="#000" text-rendering="geometricPrecision">6</text>
<text x="585.32" y="56.00" font-size="9.34" font-family="'Liberation Sans', Arial, sans-serif" font-weight="bold" textLength="67.18" lengthAdjust="spacing" transform="scale(0.8 1)" stroke="#000" stroke-width="0.27" fill="#000" text-rendering="geometricPrecision">205.22 &gt; 149.11</text>
<text x="485.24" y="72.00" font-size="9.47" font-family="'Liberation Sans', Arial, sans-serif" font-weight="bold" textLength="7.63" lengthAdjust="spacingAndGlyphs" stroke="#000" stroke-width="0.24" fill="#000" text-rendering="geometricPrecision">IS</text>
<text x="603.09" y="82.00" font-size="9.09" font-family="'Liberation Sans', Arial, sans-serif" font-weight="bold" textLength="18.80" lengthAdjust="spacing" transform="scale(0.8 1)" stroke="#000" stroke-width="0.27" fill="#000" text-rendering="geometricPrecision">1.56</text>
<text x="354.49" y="192.00" font-size="10.02" font-family="'Liberation Sans', Arial, sans-serif" font-weight="bold" textLength="16.13" lengthAdjust="spacing" transform="scale(0.8 1)" stroke="#000" stroke-width="0.27" fill="#000" text-rendering="geometricPrecision">100</text>
<text x="295.67" y="299.00" font-size="10.06" font-family="'Liberation Sans', Arial, sans-serif" font-weight="normal" textLength="5.23" lengthAdjust="spacingAndGlyphs" stroke="#000" stroke-width="0.30" fill="#000" text-rendering="geometricPrecision">0</text>
<text x="299.78" y="242.57" font-size="10.66" font-family="'Liberation Sans', Arial, sans-serif" font-weight="bold" textLength="7.10" lengthAdjust="spacingAndGlyphs" transform="rotate(-90 299.78 242.57)" stroke="#000" stroke-width="0.24" fill="#000" text-rendering="geometricPrecision">%</text>
<text x="616.64" y="193.00" font-size="10.20" font-family="'Liberation Sans', Arial, sans-serif" font-weight="bold" textLength="36.69" lengthAdjust="spacing" transform="scale(0.8 1)" stroke="#000" stroke-width="0.27" fill="#000" text-rendering="geometricPrecision">9.0 x 10</text>
<text x="523.35" y="190.00" font-size="7.27" font-family="'Liberation Sans', Arial, sans-serif" font-weight="bold" textLength="2.42" lengthAdjust="spacingAndGlyphs" stroke="#000" stroke-width="0.24" fill="#000" text-rendering="geometricPrecision">6</text>
<text x="589.31" y="208.00" font-size="10.01" font-family="'Liberation Sans', Arial, sans-serif" font-weight="bold" textLength="67.90" lengthAdjust="spacing" transform="scale(0.8 1)" stroke="#000" stroke-width="0.27" fill="#000" text-rendering="geometricPrecision">205.22 &gt; 149.11</text>
<text x="486.40" y="225.00" font-size="9.10" font-family="'Liberation Sans', Arial, sans-serif" font-weight="bold" textLength="7.93" lengthAdjust="spacingAndGlyphs" stroke="#000" stroke-width="0.24" fill="#000" text-rendering="geometricPrecision">IS</text>
<text x="601.34" y="236.00" font-size="9.98" font-family="'Liberation Sans', Arial, sans-serif" font-weight="bold" textLength="19.07" lengthAdjust="spacing" transform="scale(0.8 1)" stroke="#000" stroke-width="0.27" fill="#000" text-rendering="geometricPrecision">1.56</text>
<text x="352.76" y="353.00" font-size="9.80" font-family="'Liberation Sans', Arial, sans-serif" font-weight="bold" textLength="16.69" lengthAdjust="spacing" transform="scale(0.8 1)" stroke="#000" stroke-width="0.27" fill="#000" text-rendering="geometricPrecision">100</text>
<text x="296.54" y="460.00" font-size="10.25" font-family="'Liberation Sans', Arial, sans-serif" font-weight="normal" textLength="4.88" lengthAdjust="spacingAndGlyphs" stroke="#000" stroke-width="0.30" fill="#000" text-rendering="geometricPrecision">0</text>
<text x="300.27" y="402.84" font-size="10.70" font-family="'Liberation Sans', Arial, sans-serif" font-weight="bold" textLength="7.04" lengthAdjust="spacingAndGlyphs" transform="rotate(-90 300.27 402.84)" stroke="#000" stroke-width="0.24" fill="#000" text-rendering="geometricPrecision">%</text>
<text x="622.64" y="356.00" font-size="10.28" font-family="'Liberation Sans', Arial, sans-serif" font-weight="bold" textLength="36.96" lengthAdjust="spacing" transform="scale(0.8 1)" stroke="#000" stroke-width="0.27" fill="#000" text-rendering="geometricPrecision">9.0 x 10</text>
<text x="528.35" y="354.00" font-size="7.87" font-family="'Liberation Sans', Arial, sans-serif" font-weight="bold" textLength="2.53" lengthAdjust="spacingAndGlyphs" stroke="#000" stroke-width="0.24" fill="#000" text-rendering="geometricPrecision">6</text>
<text x="596.35" y="370.00" font-size="9.33" font-family="'Liberation Sans', Arial, sans-serif" font-weight="bold" textLength="67.86" lengthAdjust="spacing" transform="scale(0.8 1)" stroke="#000" stroke-width="0.27" fill="#000" text-rendering="geometricPrecision">205.22 &gt; 149.11</text>
<text x="485.69" y="385.00" font-size="8.87" font-family="'Liberation Sans', Arial, sans-serif" font-weight="bold" textLength="7.40" lengthAdjust="spacingAndGlyphs" stroke="#000" stroke-width="0.24" fill="#000" text-rendering="geometricPrecision">IS</text>
<text x="602.03" y="396.00" font-size="9.43" font-family="'Liberation Sans', Arial, sans-serif" font-weight="bold" textLength="17.82" lengthAdjust="spacing" transform="scale(0.8 1)" stroke="#000" stroke-width="0.27" fill="#000" text-rendering="geometricPrecision">1.56</text>
<text x="655.52" y="468.00" font-size="9.74" font-family="'Liberation Sans', Arial, sans-serif" font-weight="bold" textLength="21.16" lengthAdjust="spacing" transform="scale(0.8 1)" stroke="#000" stroke-width="0.27" fill="#000" text-rendering="geometricPrecision">Time</text>
<text x="263.67" y="172.00" font-size="11.45" font-family="'Liberation Serif', 'Times New Roman', serif" font-weight="normal" textLength="16.20" lengthAdjust="spacingAndGlyphs" stroke="#000" stroke-width="0.35" fill="#000" text-rendering="geometricPrecision">(A)</text>
<text x="264.04" y="327.00" font-size="11.49" font-family="'Liberation Serif', 'Times New Roman', serif" font-weight="normal" textLength="14.32" lengthAdjust="spacingAndGlyphs" stroke="#000" stroke-width="0.35" fill="#000" text-rendering="geometricPrecision">(B)</text>
<text x="263.54" y="488.00" font-size="10.40" font-family="'Liberation Serif', 'Times New Roman', serif" font-weight="normal" textLength="15.69" lengthAdjust="spacingAndGlyphs" stroke="#000" stroke-width="0.35" fill="#000" text-rendering="geometricPrecision">(C)</text>
<text x="50.50" y="155.00" font-size="9.00" font-family="'Liberation Sans', Arial, sans-serif" font-weight="bold" textLength="17.88" lengthAdjust="spacing" transform="scale(0.8 1)" stroke="#000" stroke-width="0.27" fill="#000" text-rendering="geometricPrecision">0.40</text>
<text x="84.14" y="155.00" font-size="9.00" font-family="'Liberation Sans', Arial, sans-serif" font-weight="bold" textLength="17.88" lengthAdjust="spacing" transform="scale(0.8 1)" stroke="#000" stroke-width="0.27" fill="#000" text-rendering="geometricPrecision">0.60</text>
<text x="117.57" y="155.00" font-size="9.00" font-family="'Liberation Sans', Arial, sans-serif" font-weight="bold" textLength="17.88" lengthAdjust="spacing" transform="scale(0.8 1)" stroke="#000" stroke-width="0.27" fill="#000" text-rendering="geometricPrecision">0.80</text>
<text x="151.12" y="155.00" font-size="9.00" font-family="'Liberation Sans', Arial, sans-serif" font-weight="bold" textLength="17.88" lengthAdjust="spacing" transform="scale(0.8 1)" stroke="#000" stroke-width="0.27" fill="#000" text-rendering="geometricPrecision">1.00</text>
<text x="184.17" y="155.00" font-size="9.00" font-family="'Liberation Sans', Arial, sans-serif" font-weight="bold" textLength="17.88" lengthAdjust="spacing" transform="scale(0.8 1)" stroke="#000" stroke-width="0.27" fill="#000" text-rendering="geometricPrecision">1.20</text>
<text x="217.87" y="155.00" font-size="9.00" font-family="'Liberation Sans', Arial, sans-serif" font-weight="bold" textLength="17.88" lengthAdjust="spacing" transform="scale(0.8 1)" stroke="#000" stroke-width="0.27" fill="#000" text-rendering="geometricPrecision">1.40</text>
<text x="251.42" y="155.00" font-size="9.00" font-family="'Liberation Sans', Arial, sans-serif" font-weight="bold" textLength="17.88" lengthAdjust="spacing" transform="scale(0.8 1)" stroke="#000" stroke-width="0.27" fill="#000" text-rendering="geometricPrecision">1.60</text>
<text x="284.90" y="155.00" font-size="9.00" font-family="'Liberation Sans', Arial, sans-serif" font-weight="bold" textLength="17.88" lengthAdjust="spacing" transform="scale(0.8 1)" stroke="#000" stroke-width="0.27" fill="#000" text-rendering="geometricPrecision">1.80</text>
<text x="50.50" y="308.00" font-size="9.00" font-family="'Liberation Sans', Arial, sans-serif" font-weight="bold" textLength="17.88" lengthAdjust="spacing" transform="scale(0.8 1)" stroke="#000" stroke-width="0.27" fill="#000" text-rendering="geometricPrecision">0.40</text>
<text x="84.14" y="308.00" font-size="9.00" font-family="'Liberation Sans', Arial, sans-serif" font-weight="bold" textLength="17.88" lengthAdjust="spacing" transform="scale(0.8 1)" stroke="#000" stroke-width="0.27" fill="#000" text-rendering="geometricPrecision">0.60</text>
<text x="117.57" y="308.00" font-size="9.00" font-family="'Liberation Sans', Arial, sans-serif" font-weight="bold" textLength="17.88" lengthAdjust="spacing" transform="scale(0.8 1)" stroke="#000" stroke-width="0.27" fill="#000" text-rendering="geometricPrecision">0.80</text>
<text x="151.12" y="308.00" font-size="9.00" font-family="'Liberation Sans', Arial, sans-serif" font-weight="bold" textLength="17.88" lengthAdjust="spacing" transform="scale(0.8 1)" stroke="#000" stroke-width="0.27" fill="#000" text-rendering="geometricPrecision">1.00</text>
<text x="184.17" y="308.00" font-size="9.00" font-family="'Liberation Sans', Arial, sans-serif" font-weight="bold" textLength="17.88" lengthAdjust="spacing" transform="scale(0.8 1)" stroke="#000" stroke-width="0.27" fill="#000" text-rendering="geometricPrecision">1.20</text>
<text x="217.87" y="308.00" font-size="9.00" font-family="'Liberation Sans', Arial, sans-serif" font-weight="bold" textLength="17.88" lengthAdjust="spacing" transform="scale(0.8 1)" stroke="#000" stroke-width="0.27" fill="#000" text-rendering="geometricPrecision">1.40</text>
<text x="251.42" y="308.00" font-size="9.00" font-family="'Liberation Sans', Arial, sans-serif" font-weight="bold" textLength="17.88" lengthAdjust="spacing" transform="scale(0.8 1)" stroke="#000" stroke-width="0.27" fill="#000" text-rendering="geometricPrecision">1.60</text>
<text x="284.90" y="308.00" font-size="9.00" font-family="'Liberation Sans', Arial, sans-serif" font-weight="bold" textLength="17.88" lengthAdjust="spacing" transform="scale(0.8 1)" stroke="#000" stroke-width="0.27" fill="#000" text-rendering="geometricPrecision">1.80</text>
<text x="50.50" y="468.00" font-size="9.00" font-family="'Liberation Sans', Arial, sans-serif" font-weight="bold" textLength="17.88" lengthAdjust="spacing" transform="scale(0.8 1)" stroke="#000" stroke-width="0.27" fill="#000" text-rendering="geometricPrecision">0.40</text>
<text x="84.14" y="468.00" font-size="9.00" font-family="'Liberation Sans', Arial, sans-serif" font-weight="bold" textLength="17.88" lengthAdjust="spacing" transform="scale(0.8 1)" stroke="#000" stroke-width="0.27" fill="#000" text-rendering="geometricPrecision">0.60</text>
<text x="117.57" y="468.00" font-size="9.00" font-family="'Liberation Sans', Arial, sans-serif" font-weight="bold" textLength="17.88" lengthAdjust="spacing" transform="scale(0.8 1)" stroke="#000" stroke-width="0.27" fill="#000" text-rendering="geometricPrecision">0.80</text>
<text x="151.12" y="468.00" font-size="9.00" font-family="'Liberation Sans', Arial, sans-serif" font-weight="bold" textLength="17.88" lengthAdjust="spacing" transform="scale(0.8 1)" stroke="#000" stroke-width="0.27" fill="#000" text-rendering="geometricPrecision">1.00</text>
<text x="184.17" y="468.00" font-size="9.00" font-family="'Liberation Sans', Arial, sans-serif" font-weight="bold" textLength="17.88" lengthAdjust="spacing" transform="scale(0.8 1)" stroke="#000" stroke-width="0.27" fill="#000" text-rendering="geometricPrecision">1.20</text>
<text x="217.87" y="468.00" font-size="9.00" font-family="'Liberation Sans', Arial, sans-serif" font-weight="bold" textLength="17.88" lengthAdjust="spacing" transform="scale(0.8 1)" stroke="#000" stroke-width="0.27" fill="#000" text-rendering="geometricPrecision">1.40</text>
<text x="251.42" y="468.00" font-size="9.00" font-family="'Liberation Sans', Arial, sans-serif" font-weight="bold" textLength="17.88" lengthAdjust="spacing" transform="scale(0.8 1)" stroke="#000" stroke-width="0.27" fill="#000" text-rendering="geometricPrecision">1.60</text>
<text x="284.90" y="468.00" font-size="9.00" font-family="'Liberation Sans', Arial, sans-serif" font-weight="bold" textLength="17.88" lengthAdjust="spacing" transform="scale(0.8 1)" stroke="#000" stroke-width="0.27" fill="#000" text-rendering="geometricPrecision">1.80</text>
<text x="423.65" y="153.00" font-size="8.80" font-family="'Liberation Sans', Arial, sans-serif" font-weight="bold" textLength="18.25" lengthAdjust="spacing" transform="scale(0.8 1)" stroke="#000" stroke-width="0.27" fill="#000" text-rendering="geometricPrecision">0.50</text>
<text x="505.40" y="153.00" font-size="8.80" font-family="'Liberation Sans', Arial, sans-serif" font-weight="bold" textLength="18.25" lengthAdjust="spacing" transform="scale(0.8 1)" stroke="#000" stroke-width="0.27" fill="#000" text-rendering="geometricPrecision">1.00</text>
<text x="587.70" y="153.00" font-size="8.80" font-family="'Liberation Sans', Arial, sans-serif" font-weight="bold" textLength="18.25" lengthAdjust="spacing" transform="scale(0.8 1)" stroke="#000" stroke-width="0.27" fill="#000" text-rendering="geometricPrecision">1.50</text>
<text x="423.65" y="308.00" font-size="8.80" font-family="'Liberation Sans', Arial, sans-serif" font-weight="bold" textLength="18.25" lengthAdjust="spacing" transform="scale(0.8 1)" stroke="#000" stroke-width="0.27" fill="#000" text-rendering="geometricPrecision">0.50</text>
<text x="505.40" y="308.00" font-size="8.80" font-family="'Liberation Sans', Arial, sans-serif" font-weight="bold" textLength="18.25" lengthAdjust="spacing" transform="scale(0.8 1)" stroke="#000" stroke-width="0.27" fill="#000" text-rendering="geometricPrecision">1.00</text>
<text x="587.70" y="308.00" font-size="8.80" font-family="'Liberation Sans', Arial, sans-serif" font-weight="bold" textLength="18.25" lengthAdjust="spacing" transform="scale(0.8 1)" stroke="#000" stroke-width="0.27" fill="#000" text-rendering="geometricPrecision">1.50</text>
<text x="423.65" y="468.00" font-size="8.80" font-family="'Liberation Sans', Arial, sans-serif" font-weight="bold" textLength="18.25" lengthAdjust="spacing" transform="scale(0.8 1)" stroke="#000" stroke-width="0.27" fill="#000" text-rendering="geometricPrecision">0.50</text>
<text x="505.40" y="468.00" font-size="8.80" font-family="'Liberation Sans', Arial, sans-serif" font-weight="bold" textLength="18.25" lengthAdjust="spacing" transform="scale(0.8 1)" stroke="#000" stroke-width="0.27" fill="#000" text-rendering="geometricPrecision">1.00</text>
<text x="587.70" y="468.00" font-size="8.80" font-family="'Liberation Sans', Arial, sans-serif" font-weight="bold" textLength="18.25" lengthAdjust="spacing" transform="scale(0.8 1)" stroke="#000" stroke-width="0.27" fill="#000" text-rendering="geometricPrecision">1.50</text>
<line x1="293.2" y1="468.6" x2="293.2" y2="471.4" stroke="#aaa" stroke-width="0.9"/>
</svg>
</body></html>
